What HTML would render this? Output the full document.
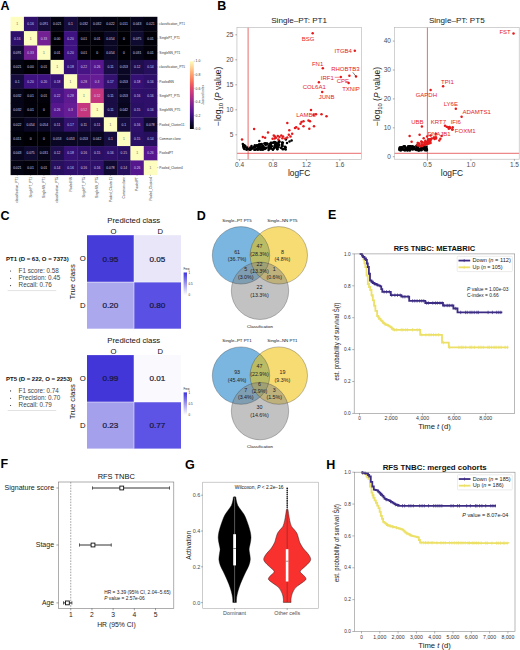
<!DOCTYPE html><html><head><meta charset="utf-8"><style>html,body{margin:0;padding:0;background:#fff;}svg{display:block;}text{font-family:"Liberation Sans", sans-serif;}</style></head><body>
<svg width="520" height="650" viewBox="0 0 520 650">
<rect x="0" y="0" width="520" height="650" fill="#fff"/>
<text x="0.60" y="9.90" font-size="12.5" text-anchor="start" font-weight="bold" fill="#000"  style="">A</text>
<text x="217.30" y="9.70" font-size="12.5" text-anchor="start" font-weight="bold" fill="#000"  style="">B</text>
<text x="0.40" y="219.80" font-size="12.5" text-anchor="start" font-weight="bold" fill="#000"  style="">C</text>
<text x="196.70" y="219.70" font-size="12.5" text-anchor="start" font-weight="bold" fill="#000"  style="">D</text>
<text x="327.90" y="219.30" font-size="12.5" text-anchor="start" font-weight="bold" fill="#000"  style="">E</text>
<text x="0.50" y="468.30" font-size="12.5" text-anchor="start" font-weight="bold" fill="#000"  style="">F</text>
<text x="185.00" y="468.50" font-size="12.5" text-anchor="start" font-weight="bold" fill="#000"  style="">G</text>
<text x="326.20" y="468.60" font-size="12.5" text-anchor="start" font-weight="bold" fill="#000"  style="">H</text>
<rect x="10.60" y="16.80" width="13.62" height="14.66" fill="#fcfdbf" stroke="none" stroke-width="1" />
<rect x="23.92" y="16.80" width="13.62" height="14.66" fill="#2e106a" stroke="none" stroke-width="1" />
<rect x="37.24" y="16.80" width="13.62" height="14.66" fill="#140b39" stroke="none" stroke-width="1" />
<rect x="50.55" y="16.80" width="13.62" height="14.66" fill="#040311" stroke="none" stroke-width="1" />
<rect x="63.87" y="16.80" width="13.62" height="14.66" fill="#160c3e" stroke="none" stroke-width="1" />
<rect x="77.19" y="16.80" width="13.62" height="14.66" fill="#060417" stroke="none" stroke-width="1" />
<rect x="90.51" y="16.80" width="13.62" height="14.66" fill="#060417" stroke="none" stroke-width="1" />
<rect x="103.83" y="16.80" width="13.62" height="14.66" fill="#040311" stroke="none" stroke-width="1" />
<rect x="117.15" y="16.80" width="13.62" height="14.66" fill="#02020b" stroke="none" stroke-width="1" />
<rect x="130.46" y="16.80" width="13.62" height="14.66" fill="#08061e" stroke="none" stroke-width="1" />
<rect x="143.78" y="16.80" width="13.62" height="14.66" fill="#040311" stroke="none" stroke-width="1" />
<rect x="10.60" y="31.16" width="13.62" height="14.66" fill="#2e106a" stroke="none" stroke-width="1" />
<rect x="23.92" y="31.16" width="13.62" height="14.66" fill="#fcfdbf" stroke="none" stroke-width="1" />
<rect x="37.24" y="31.16" width="13.62" height="14.66" fill="#722093" stroke="none" stroke-width="1" />
<rect x="50.55" y="31.16" width="13.62" height="14.66" fill="#000004" stroke="none" stroke-width="1" />
<rect x="63.87" y="31.16" width="13.62" height="14.66" fill="#3e1280" stroke="none" stroke-width="1" />
<rect x="77.19" y="31.16" width="13.62" height="14.66" fill="#02010a" stroke="none" stroke-width="1" />
<rect x="90.51" y="31.16" width="13.62" height="14.66" fill="#02010a" stroke="none" stroke-width="1" />
<rect x="103.83" y="31.16" width="13.62" height="14.66" fill="#0a0724" stroke="none" stroke-width="1" />
<rect x="117.15" y="31.16" width="13.62" height="14.66" fill="#000004" stroke="none" stroke-width="1" />
<rect x="130.46" y="31.16" width="13.62" height="14.66" fill="#0f0a30" stroke="none" stroke-width="1" />
<rect x="143.78" y="31.16" width="13.62" height="14.66" fill="#02010a" stroke="none" stroke-width="1" />
<rect x="10.60" y="45.53" width="13.62" height="14.66" fill="#140b39" stroke="none" stroke-width="1" />
<rect x="23.92" y="45.53" width="13.62" height="14.66" fill="#722093" stroke="none" stroke-width="1" />
<rect x="37.24" y="45.53" width="13.62" height="14.66" fill="#fcfdbf" stroke="none" stroke-width="1" />
<rect x="50.55" y="45.53" width="13.62" height="14.66" fill="#02010a" stroke="none" stroke-width="1" />
<rect x="63.87" y="45.53" width="13.62" height="14.66" fill="#3e1280" stroke="none" stroke-width="1" />
<rect x="77.19" y="45.53" width="13.62" height="14.66" fill="#02010a" stroke="none" stroke-width="1" />
<rect x="90.51" y="45.53" width="13.62" height="14.66" fill="#000004" stroke="none" stroke-width="1" />
<rect x="103.83" y="45.53" width="13.62" height="14.66" fill="#0a0724" stroke="none" stroke-width="1" />
<rect x="117.15" y="45.53" width="13.62" height="14.66" fill="#000004" stroke="none" stroke-width="1" />
<rect x="130.46" y="45.53" width="13.62" height="14.66" fill="#060417" stroke="none" stroke-width="1" />
<rect x="143.78" y="45.53" width="13.62" height="14.66" fill="#02010a" stroke="none" stroke-width="1" />
<rect x="10.60" y="59.89" width="13.62" height="14.66" fill="#040311" stroke="none" stroke-width="1" />
<rect x="23.92" y="59.89" width="13.62" height="14.66" fill="#000004" stroke="none" stroke-width="1" />
<rect x="37.24" y="59.89" width="13.62" height="14.66" fill="#02010a" stroke="none" stroke-width="1" />
<rect x="50.55" y="59.89" width="13.62" height="14.66" fill="#fcfdbf" stroke="none" stroke-width="1" />
<rect x="63.87" y="59.89" width="13.62" height="14.66" fill="#361175" stroke="none" stroke-width="1" />
<rect x="77.19" y="59.89" width="13.62" height="14.66" fill="#461485" stroke="none" stroke-width="1" />
<rect x="90.51" y="59.89" width="13.62" height="14.66" fill="#56178e" stroke="none" stroke-width="1" />
<rect x="103.83" y="59.89" width="13.62" height="14.66" fill="#1a0d46" stroke="none" stroke-width="1" />
<rect x="117.15" y="59.89" width="13.62" height="14.66" fill="#0a0724" stroke="none" stroke-width="1" />
<rect x="130.46" y="59.89" width="13.62" height="14.66" fill="#1e0e4d" stroke="none" stroke-width="1" />
<rect x="143.78" y="59.89" width="13.62" height="14.66" fill="#260f5c" stroke="none" stroke-width="1" />
<rect x="10.60" y="74.25" width="13.62" height="14.66" fill="#160c3e" stroke="none" stroke-width="1" />
<rect x="23.92" y="74.25" width="13.62" height="14.66" fill="#3e1280" stroke="none" stroke-width="1" />
<rect x="37.24" y="74.25" width="13.62" height="14.66" fill="#3e1280" stroke="none" stroke-width="1" />
<rect x="50.55" y="74.25" width="13.62" height="14.66" fill="#361175" stroke="none" stroke-width="1" />
<rect x="63.87" y="74.25" width="13.62" height="14.66" fill="#fcfdbf" stroke="none" stroke-width="1" />
<rect x="77.19" y="74.25" width="13.62" height="14.66" fill="#5e1a91" stroke="none" stroke-width="1" />
<rect x="90.51" y="74.25" width="13.62" height="14.66" fill="#661c94" stroke="none" stroke-width="1" />
<rect x="103.83" y="74.25" width="13.62" height="14.66" fill="#32116f" stroke="none" stroke-width="1" />
<rect x="117.15" y="74.25" width="13.62" height="14.66" fill="#0a0724" stroke="none" stroke-width="1" />
<rect x="130.46" y="74.25" width="13.62" height="14.66" fill="#361175" stroke="none" stroke-width="1" />
<rect x="143.78" y="74.25" width="13.62" height="14.66" fill="#2e106a" stroke="none" stroke-width="1" />
<rect x="10.60" y="88.62" width="13.62" height="14.66" fill="#060417" stroke="none" stroke-width="1" />
<rect x="23.92" y="88.62" width="13.62" height="14.66" fill="#02010a" stroke="none" stroke-width="1" />
<rect x="37.24" y="88.62" width="13.62" height="14.66" fill="#02010a" stroke="none" stroke-width="1" />
<rect x="50.55" y="88.62" width="13.62" height="14.66" fill="#461485" stroke="none" stroke-width="1" />
<rect x="63.87" y="88.62" width="13.62" height="14.66" fill="#5e1a91" stroke="none" stroke-width="1" />
<rect x="77.19" y="88.62" width="13.62" height="14.66" fill="#fcfdbf" stroke="none" stroke-width="1" />
<rect x="90.51" y="88.62" width="13.62" height="14.66" fill="#c4377f" stroke="none" stroke-width="1" />
<rect x="103.83" y="88.62" width="13.62" height="14.66" fill="#1a0d46" stroke="none" stroke-width="1" />
<rect x="117.15" y="88.62" width="13.62" height="14.66" fill="#0a0724" stroke="none" stroke-width="1" />
<rect x="130.46" y="88.62" width="13.62" height="14.66" fill="#2e106a" stroke="none" stroke-width="1" />
<rect x="143.78" y="88.62" width="13.62" height="14.66" fill="#2e106a" stroke="none" stroke-width="1" />
<rect x="10.60" y="102.98" width="13.62" height="14.66" fill="#060417" stroke="none" stroke-width="1" />
<rect x="23.92" y="102.98" width="13.62" height="14.66" fill="#02010a" stroke="none" stroke-width="1" />
<rect x="37.24" y="102.98" width="13.62" height="14.66" fill="#000004" stroke="none" stroke-width="1" />
<rect x="50.55" y="102.98" width="13.62" height="14.66" fill="#56178e" stroke="none" stroke-width="1" />
<rect x="63.87" y="102.98" width="13.62" height="14.66" fill="#661c94" stroke="none" stroke-width="1" />
<rect x="77.19" y="102.98" width="13.62" height="14.66" fill="#c4377f" stroke="none" stroke-width="1" />
<rect x="90.51" y="102.98" width="13.62" height="14.66" fill="#fcfdbf" stroke="none" stroke-width="1" />
<rect x="103.83" y="102.98" width="13.62" height="14.66" fill="#1a0d46" stroke="none" stroke-width="1" />
<rect x="117.15" y="102.98" width="13.62" height="14.66" fill="#08061d" stroke="none" stroke-width="1" />
<rect x="130.46" y="102.98" width="13.62" height="14.66" fill="#2a1064" stroke="none" stroke-width="1" />
<rect x="143.78" y="102.98" width="13.62" height="14.66" fill="#2e106a" stroke="none" stroke-width="1" />
<rect x="10.60" y="117.35" width="13.62" height="14.66" fill="#040311" stroke="none" stroke-width="1" />
<rect x="23.92" y="117.35" width="13.62" height="14.66" fill="#0a0724" stroke="none" stroke-width="1" />
<rect x="37.24" y="117.35" width="13.62" height="14.66" fill="#0a0724" stroke="none" stroke-width="1" />
<rect x="50.55" y="117.35" width="13.62" height="14.66" fill="#1a0d46" stroke="none" stroke-width="1" />
<rect x="63.87" y="117.35" width="13.62" height="14.66" fill="#32116f" stroke="none" stroke-width="1" />
<rect x="77.19" y="117.35" width="13.62" height="14.66" fill="#1a0d46" stroke="none" stroke-width="1" />
<rect x="90.51" y="117.35" width="13.62" height="14.66" fill="#1a0d46" stroke="none" stroke-width="1" />
<rect x="103.83" y="117.35" width="13.62" height="14.66" fill="#fcfdbf" stroke="none" stroke-width="1" />
<rect x="117.15" y="117.35" width="13.62" height="14.66" fill="#160c3e" stroke="none" stroke-width="1" />
<rect x="130.46" y="117.35" width="13.62" height="14.66" fill="#2e106a" stroke="none" stroke-width="1" />
<rect x="143.78" y="117.35" width="13.62" height="14.66" fill="#100a32" stroke="none" stroke-width="1" />
<rect x="10.60" y="131.71" width="13.62" height="14.66" fill="#02020b" stroke="none" stroke-width="1" />
<rect x="23.92" y="131.71" width="13.62" height="14.66" fill="#000004" stroke="none" stroke-width="1" />
<rect x="37.24" y="131.71" width="13.62" height="14.66" fill="#000004" stroke="none" stroke-width="1" />
<rect x="50.55" y="131.71" width="13.62" height="14.66" fill="#0a0724" stroke="none" stroke-width="1" />
<rect x="63.87" y="131.71" width="13.62" height="14.66" fill="#0a0724" stroke="none" stroke-width="1" />
<rect x="77.19" y="131.71" width="13.62" height="14.66" fill="#0a0724" stroke="none" stroke-width="1" />
<rect x="90.51" y="131.71" width="13.62" height="14.66" fill="#08061d" stroke="none" stroke-width="1" />
<rect x="103.83" y="131.71" width="13.62" height="14.66" fill="#160c3e" stroke="none" stroke-width="1" />
<rect x="117.15" y="131.71" width="13.62" height="14.66" fill="#fcfdbf" stroke="none" stroke-width="1" />
<rect x="130.46" y="131.71" width="13.62" height="14.66" fill="#2a1064" stroke="none" stroke-width="1" />
<rect x="143.78" y="131.71" width="13.62" height="14.66" fill="#260f5c" stroke="none" stroke-width="1" />
<rect x="10.60" y="146.07" width="13.62" height="14.66" fill="#08061e" stroke="none" stroke-width="1" />
<rect x="23.92" y="146.07" width="13.62" height="14.66" fill="#0f0a30" stroke="none" stroke-width="1" />
<rect x="37.24" y="146.07" width="13.62" height="14.66" fill="#060417" stroke="none" stroke-width="1" />
<rect x="50.55" y="146.07" width="13.62" height="14.66" fill="#1e0e4d" stroke="none" stroke-width="1" />
<rect x="63.87" y="146.07" width="13.62" height="14.66" fill="#361175" stroke="none" stroke-width="1" />
<rect x="77.19" y="146.07" width="13.62" height="14.66" fill="#2e106a" stroke="none" stroke-width="1" />
<rect x="90.51" y="146.07" width="13.62" height="14.66" fill="#2a1064" stroke="none" stroke-width="1" />
<rect x="103.83" y="146.07" width="13.62" height="14.66" fill="#2e106a" stroke="none" stroke-width="1" />
<rect x="117.15" y="146.07" width="13.62" height="14.66" fill="#2a1064" stroke="none" stroke-width="1" />
<rect x="130.46" y="146.07" width="13.62" height="14.66" fill="#fcfdbf" stroke="none" stroke-width="1" />
<rect x="143.78" y="146.07" width="13.62" height="14.66" fill="#56178e" stroke="none" stroke-width="1" />
<rect x="10.60" y="160.44" width="13.62" height="14.66" fill="#040311" stroke="none" stroke-width="1" />
<rect x="23.92" y="160.44" width="13.62" height="14.66" fill="#02010a" stroke="none" stroke-width="1" />
<rect x="37.24" y="160.44" width="13.62" height="14.66" fill="#02010a" stroke="none" stroke-width="1" />
<rect x="50.55" y="160.44" width="13.62" height="14.66" fill="#260f5c" stroke="none" stroke-width="1" />
<rect x="63.87" y="160.44" width="13.62" height="14.66" fill="#2e106a" stroke="none" stroke-width="1" />
<rect x="77.19" y="160.44" width="13.62" height="14.66" fill="#2e106a" stroke="none" stroke-width="1" />
<rect x="90.51" y="160.44" width="13.62" height="14.66" fill="#2e106a" stroke="none" stroke-width="1" />
<rect x="103.83" y="160.44" width="13.62" height="14.66" fill="#100a32" stroke="none" stroke-width="1" />
<rect x="117.15" y="160.44" width="13.62" height="14.66" fill="#260f5c" stroke="none" stroke-width="1" />
<rect x="130.46" y="160.44" width="13.62" height="14.66" fill="#56178e" stroke="none" stroke-width="1" />
<rect x="143.78" y="160.44" width="13.62" height="14.66" fill="#fcfdbf" stroke="none" stroke-width="1" />
<text x="17.26" y="25.13" font-size="3.3" text-anchor="middle" font-weight="normal" fill="#666"  style="">1</text>
<text x="30.58" y="25.13" font-size="3.3" text-anchor="middle" font-weight="normal" fill="#d8d0ec"  style="">0.16</text>
<text x="43.90" y="25.13" font-size="3.3" text-anchor="middle" font-weight="normal" fill="#d8d0ec"  style="">0.091</text>
<text x="57.21" y="25.13" font-size="3.3" text-anchor="middle" font-weight="normal" fill="#d8d0ec"  style="">0.021</text>
<text x="70.53" y="25.13" font-size="3.3" text-anchor="middle" font-weight="normal" fill="#d8d0ec"  style="">0.1</text>
<text x="83.85" y="25.13" font-size="3.3" text-anchor="middle" font-weight="normal" fill="#d8d0ec"  style="">0.032</text>
<text x="97.17" y="25.13" font-size="3.3" text-anchor="middle" font-weight="normal" fill="#d8d0ec"  style="">0.032</text>
<text x="110.49" y="25.13" font-size="3.3" text-anchor="middle" font-weight="normal" fill="#d8d0ec"  style="">0.022</text>
<text x="123.80" y="25.13" font-size="3.3" text-anchor="middle" font-weight="normal" fill="#d8d0ec"  style="">0.011</text>
<text x="137.12" y="25.13" font-size="3.3" text-anchor="middle" font-weight="normal" fill="#d8d0ec"  style="">0.043</text>
<text x="150.44" y="25.13" font-size="3.3" text-anchor="middle" font-weight="normal" fill="#d8d0ec"  style="">0.021</text>
<text x="17.26" y="39.50" font-size="3.3" text-anchor="middle" font-weight="normal" fill="#d8d0ec"  style="">0.16</text>
<text x="30.58" y="39.50" font-size="3.3" text-anchor="middle" font-weight="normal" fill="#666"  style="">1</text>
<text x="43.90" y="39.50" font-size="3.3" text-anchor="middle" font-weight="normal" fill="#d8d0ec"  style="">0.33</text>
<text x="57.21" y="39.50" font-size="3.3" text-anchor="middle" font-weight="normal" fill="#d8d0ec"  style="">0.00</text>
<text x="70.53" y="39.50" font-size="3.3" text-anchor="middle" font-weight="normal" fill="#d8d0ec"  style="">0.20</text>
<text x="83.85" y="39.50" font-size="3.3" text-anchor="middle" font-weight="normal" fill="#d8d0ec"  style="">0.01</text>
<text x="97.17" y="39.50" font-size="3.3" text-anchor="middle" font-weight="normal" fill="#d8d0ec"  style="">0.01</text>
<text x="110.49" y="39.50" font-size="3.3" text-anchor="middle" font-weight="normal" fill="#d8d0ec"  style="">0.054</text>
<text x="123.80" y="39.50" font-size="3.3" text-anchor="middle" font-weight="normal" fill="#d8d0ec"  style="">0</text>
<text x="137.12" y="39.50" font-size="3.3" text-anchor="middle" font-weight="normal" fill="#d8d0ec"  style="">0.075</text>
<text x="150.44" y="39.50" font-size="3.3" text-anchor="middle" font-weight="normal" fill="#d8d0ec"  style="">0.01</text>
<text x="17.26" y="53.86" font-size="3.3" text-anchor="middle" font-weight="normal" fill="#d8d0ec"  style="">0.091</text>
<text x="30.58" y="53.86" font-size="3.3" text-anchor="middle" font-weight="normal" fill="#d8d0ec"  style="">0.33</text>
<text x="43.90" y="53.86" font-size="3.3" text-anchor="middle" font-weight="normal" fill="#666"  style="">1</text>
<text x="57.21" y="53.86" font-size="3.3" text-anchor="middle" font-weight="normal" fill="#d8d0ec"  style="">0.01</text>
<text x="70.53" y="53.86" font-size="3.3" text-anchor="middle" font-weight="normal" fill="#d8d0ec"  style="">0.20</text>
<text x="83.85" y="53.86" font-size="3.3" text-anchor="middle" font-weight="normal" fill="#d8d0ec"  style="">0.01</text>
<text x="97.17" y="53.86" font-size="3.3" text-anchor="middle" font-weight="normal" fill="#d8d0ec"  style="">0</text>
<text x="110.49" y="53.86" font-size="3.3" text-anchor="middle" font-weight="normal" fill="#d8d0ec"  style="">0.054</text>
<text x="123.80" y="53.86" font-size="3.3" text-anchor="middle" font-weight="normal" fill="#d8d0ec"  style="">0</text>
<text x="137.12" y="53.86" font-size="3.3" text-anchor="middle" font-weight="normal" fill="#d8d0ec"  style="">0.031</text>
<text x="150.44" y="53.86" font-size="3.3" text-anchor="middle" font-weight="normal" fill="#d8d0ec"  style="">0.01</text>
<text x="17.26" y="68.22" font-size="3.3" text-anchor="middle" font-weight="normal" fill="#d8d0ec"  style="">0.021</text>
<text x="30.58" y="68.22" font-size="3.3" text-anchor="middle" font-weight="normal" fill="#d8d0ec"  style="">0.00</text>
<text x="43.90" y="68.22" font-size="3.3" text-anchor="middle" font-weight="normal" fill="#d8d0ec"  style="">0.01</text>
<text x="57.21" y="68.22" font-size="3.3" text-anchor="middle" font-weight="normal" fill="#666"  style="">1</text>
<text x="70.53" y="68.22" font-size="3.3" text-anchor="middle" font-weight="normal" fill="#d8d0ec"  style="">0.18</text>
<text x="83.85" y="68.22" font-size="3.3" text-anchor="middle" font-weight="normal" fill="#d8d0ec"  style="">0.22</text>
<text x="97.17" y="68.22" font-size="3.3" text-anchor="middle" font-weight="normal" fill="#d8d0ec"  style="">0.26</text>
<text x="110.49" y="68.22" font-size="3.3" text-anchor="middle" font-weight="normal" fill="#d8d0ec"  style="">0.11</text>
<text x="123.80" y="68.22" font-size="3.3" text-anchor="middle" font-weight="normal" fill="#d8d0ec"  style="">0.053</text>
<text x="137.12" y="68.22" font-size="3.3" text-anchor="middle" font-weight="normal" fill="#d8d0ec"  style="">0.12</text>
<text x="150.44" y="68.22" font-size="3.3" text-anchor="middle" font-weight="normal" fill="#d8d0ec"  style="">0.14</text>
<text x="17.26" y="82.59" font-size="3.3" text-anchor="middle" font-weight="normal" fill="#d8d0ec"  style="">0.1</text>
<text x="30.58" y="82.59" font-size="3.3" text-anchor="middle" font-weight="normal" fill="#d8d0ec"  style="">0.20</text>
<text x="43.90" y="82.59" font-size="3.3" text-anchor="middle" font-weight="normal" fill="#d8d0ec"  style="">0.20</text>
<text x="57.21" y="82.59" font-size="3.3" text-anchor="middle" font-weight="normal" fill="#d8d0ec"  style="">0.18</text>
<text x="70.53" y="82.59" font-size="3.3" text-anchor="middle" font-weight="normal" fill="#666"  style="">1</text>
<text x="83.85" y="82.59" font-size="3.3" text-anchor="middle" font-weight="normal" fill="#d8d0ec"  style="">0.28</text>
<text x="97.17" y="82.59" font-size="3.3" text-anchor="middle" font-weight="normal" fill="#d8d0ec"  style="">0.3</text>
<text x="110.49" y="82.59" font-size="3.3" text-anchor="middle" font-weight="normal" fill="#d8d0ec"  style="">0.17</text>
<text x="123.80" y="82.59" font-size="3.3" text-anchor="middle" font-weight="normal" fill="#d8d0ec"  style="">0.053</text>
<text x="137.12" y="82.59" font-size="3.3" text-anchor="middle" font-weight="normal" fill="#d8d0ec"  style="">0.18</text>
<text x="150.44" y="82.59" font-size="3.3" text-anchor="middle" font-weight="normal" fill="#d8d0ec"  style="">0.16</text>
<text x="17.26" y="96.95" font-size="3.3" text-anchor="middle" font-weight="normal" fill="#d8d0ec"  style="">0.032</text>
<text x="30.58" y="96.95" font-size="3.3" text-anchor="middle" font-weight="normal" fill="#d8d0ec"  style="">0.01</text>
<text x="43.90" y="96.95" font-size="3.3" text-anchor="middle" font-weight="normal" fill="#d8d0ec"  style="">0.01</text>
<text x="57.21" y="96.95" font-size="3.3" text-anchor="middle" font-weight="normal" fill="#d8d0ec"  style="">0.22</text>
<text x="70.53" y="96.95" font-size="3.3" text-anchor="middle" font-weight="normal" fill="#d8d0ec"  style="">0.28</text>
<text x="83.85" y="96.95" font-size="3.3" text-anchor="middle" font-weight="normal" fill="#666"  style="">1</text>
<text x="97.17" y="96.95" font-size="3.3" text-anchor="middle" font-weight="normal" fill="#d8d0ec"  style="">0.52</text>
<text x="110.49" y="96.95" font-size="3.3" text-anchor="middle" font-weight="normal" fill="#d8d0ec"  style="">0.11</text>
<text x="123.80" y="96.95" font-size="3.3" text-anchor="middle" font-weight="normal" fill="#d8d0ec"  style="">0.053</text>
<text x="137.12" y="96.95" font-size="3.3" text-anchor="middle" font-weight="normal" fill="#d8d0ec"  style="">0.16</text>
<text x="150.44" y="96.95" font-size="3.3" text-anchor="middle" font-weight="normal" fill="#d8d0ec"  style="">0.16</text>
<text x="17.26" y="111.31" font-size="3.3" text-anchor="middle" font-weight="normal" fill="#d8d0ec"  style="">0.032</text>
<text x="30.58" y="111.31" font-size="3.3" text-anchor="middle" font-weight="normal" fill="#d8d0ec"  style="">0.01</text>
<text x="43.90" y="111.31" font-size="3.3" text-anchor="middle" font-weight="normal" fill="#d8d0ec"  style="">0</text>
<text x="57.21" y="111.31" font-size="3.3" text-anchor="middle" font-weight="normal" fill="#d8d0ec"  style="">0.26</text>
<text x="70.53" y="111.31" font-size="3.3" text-anchor="middle" font-weight="normal" fill="#d8d0ec"  style="">0.3</text>
<text x="83.85" y="111.31" font-size="3.3" text-anchor="middle" font-weight="normal" fill="#d8d0ec"  style="">0.52</text>
<text x="97.17" y="111.31" font-size="3.3" text-anchor="middle" font-weight="normal" fill="#666"  style="">1</text>
<text x="110.49" y="111.31" font-size="3.3" text-anchor="middle" font-weight="normal" fill="#d8d0ec"  style="">0.11</text>
<text x="123.80" y="111.31" font-size="3.3" text-anchor="middle" font-weight="normal" fill="#d8d0ec"  style="">0.042</text>
<text x="137.12" y="111.31" font-size="3.3" text-anchor="middle" font-weight="normal" fill="#d8d0ec"  style="">0.15</text>
<text x="150.44" y="111.31" font-size="3.3" text-anchor="middle" font-weight="normal" fill="#d8d0ec"  style="">0.16</text>
<text x="17.26" y="125.68" font-size="3.3" text-anchor="middle" font-weight="normal" fill="#d8d0ec"  style="">0.022</text>
<text x="30.58" y="125.68" font-size="3.3" text-anchor="middle" font-weight="normal" fill="#d8d0ec"  style="">0.054</text>
<text x="43.90" y="125.68" font-size="3.3" text-anchor="middle" font-weight="normal" fill="#d8d0ec"  style="">0.054</text>
<text x="57.21" y="125.68" font-size="3.3" text-anchor="middle" font-weight="normal" fill="#d8d0ec"  style="">0.11</text>
<text x="70.53" y="125.68" font-size="3.3" text-anchor="middle" font-weight="normal" fill="#d8d0ec"  style="">0.17</text>
<text x="83.85" y="125.68" font-size="3.3" text-anchor="middle" font-weight="normal" fill="#d8d0ec"  style="">0.11</text>
<text x="97.17" y="125.68" font-size="3.3" text-anchor="middle" font-weight="normal" fill="#d8d0ec"  style="">0.11</text>
<text x="110.49" y="125.68" font-size="3.3" text-anchor="middle" font-weight="normal" fill="#666"  style="">1</text>
<text x="123.80" y="125.68" font-size="3.3" text-anchor="middle" font-weight="normal" fill="#d8d0ec"  style="">0.1</text>
<text x="137.12" y="125.68" font-size="3.3" text-anchor="middle" font-weight="normal" fill="#d8d0ec"  style="">0.16</text>
<text x="150.44" y="125.68" font-size="3.3" text-anchor="middle" font-weight="normal" fill="#d8d0ec"  style="">0.078</text>
<text x="17.26" y="140.04" font-size="3.3" text-anchor="middle" font-weight="normal" fill="#d8d0ec"  style="">0.011</text>
<text x="30.58" y="140.04" font-size="3.3" text-anchor="middle" font-weight="normal" fill="#d8d0ec"  style="">0</text>
<text x="43.90" y="140.04" font-size="3.3" text-anchor="middle" font-weight="normal" fill="#d8d0ec"  style="">0</text>
<text x="57.21" y="140.04" font-size="3.3" text-anchor="middle" font-weight="normal" fill="#d8d0ec"  style="">0.053</text>
<text x="70.53" y="140.04" font-size="3.3" text-anchor="middle" font-weight="normal" fill="#d8d0ec"  style="">0.053</text>
<text x="83.85" y="140.04" font-size="3.3" text-anchor="middle" font-weight="normal" fill="#d8d0ec"  style="">0.053</text>
<text x="97.17" y="140.04" font-size="3.3" text-anchor="middle" font-weight="normal" fill="#d8d0ec"  style="">0.042</text>
<text x="110.49" y="140.04" font-size="3.3" text-anchor="middle" font-weight="normal" fill="#d8d0ec"  style="">0.1</text>
<text x="123.80" y="140.04" font-size="3.3" text-anchor="middle" font-weight="normal" fill="#666"  style="">1</text>
<text x="137.12" y="140.04" font-size="3.3" text-anchor="middle" font-weight="normal" fill="#d8d0ec"  style="">0.15</text>
<text x="150.44" y="140.04" font-size="3.3" text-anchor="middle" font-weight="normal" fill="#d8d0ec"  style="">0.14</text>
<text x="17.26" y="154.40" font-size="3.3" text-anchor="middle" font-weight="normal" fill="#d8d0ec"  style="">0.043</text>
<text x="30.58" y="154.40" font-size="3.3" text-anchor="middle" font-weight="normal" fill="#d8d0ec"  style="">0.075</text>
<text x="43.90" y="154.40" font-size="3.3" text-anchor="middle" font-weight="normal" fill="#d8d0ec"  style="">0.031</text>
<text x="57.21" y="154.40" font-size="3.3" text-anchor="middle" font-weight="normal" fill="#d8d0ec"  style="">0.12</text>
<text x="70.53" y="154.40" font-size="3.3" text-anchor="middle" font-weight="normal" fill="#d8d0ec"  style="">0.18</text>
<text x="83.85" y="154.40" font-size="3.3" text-anchor="middle" font-weight="normal" fill="#d8d0ec"  style="">0.16</text>
<text x="97.17" y="154.40" font-size="3.3" text-anchor="middle" font-weight="normal" fill="#d8d0ec"  style="">0.15</text>
<text x="110.49" y="154.40" font-size="3.3" text-anchor="middle" font-weight="normal" fill="#d8d0ec"  style="">0.16</text>
<text x="123.80" y="154.40" font-size="3.3" text-anchor="middle" font-weight="normal" fill="#d8d0ec"  style="">0.15</text>
<text x="137.12" y="154.40" font-size="3.3" text-anchor="middle" font-weight="normal" fill="#666"  style="">1</text>
<text x="150.44" y="154.40" font-size="3.3" text-anchor="middle" font-weight="normal" fill="#d8d0ec"  style="">0.26</text>
<text x="17.26" y="168.77" font-size="3.3" text-anchor="middle" font-weight="normal" fill="#d8d0ec"  style="">0.021</text>
<text x="30.58" y="168.77" font-size="3.3" text-anchor="middle" font-weight="normal" fill="#d8d0ec"  style="">0.01</text>
<text x="43.90" y="168.77" font-size="3.3" text-anchor="middle" font-weight="normal" fill="#d8d0ec"  style="">0.01</text>
<text x="57.21" y="168.77" font-size="3.3" text-anchor="middle" font-weight="normal" fill="#d8d0ec"  style="">0.14</text>
<text x="70.53" y="168.77" font-size="3.3" text-anchor="middle" font-weight="normal" fill="#d8d0ec"  style="">0.16</text>
<text x="83.85" y="168.77" font-size="3.3" text-anchor="middle" font-weight="normal" fill="#d8d0ec"  style="">0.16</text>
<text x="97.17" y="168.77" font-size="3.3" text-anchor="middle" font-weight="normal" fill="#d8d0ec"  style="">0.16</text>
<text x="110.49" y="168.77" font-size="3.3" text-anchor="middle" font-weight="normal" fill="#d8d0ec"  style="">0.078</text>
<text x="123.80" y="168.77" font-size="3.3" text-anchor="middle" font-weight="normal" fill="#d8d0ec"  style="">0.14</text>
<text x="137.12" y="168.77" font-size="3.3" text-anchor="middle" font-weight="normal" fill="#d8d0ec"  style="">0.26</text>
<text x="150.44" y="168.77" font-size="3.3" text-anchor="middle" font-weight="normal" fill="#666"  style="">1</text>
<line x1="157.10" y1="23.98" x2="158.30" y2="23.98" stroke="#444" stroke-width="0.3" />
<text x="159.30" y="25.08" font-size="3.2" text-anchor="start" font-weight="normal" fill="#333"  style="">classification_PT1</text>
<line x1="157.10" y1="38.35" x2="158.30" y2="38.35" stroke="#444" stroke-width="0.3" />
<text x="159.30" y="39.45" font-size="3.2" text-anchor="start" font-weight="normal" fill="#333"  style="">SinglePT_PT1</text>
<line x1="157.10" y1="52.71" x2="158.30" y2="52.71" stroke="#444" stroke-width="0.3" />
<text x="159.30" y="53.81" font-size="3.2" text-anchor="start" font-weight="normal" fill="#333"  style="">SingleNN_PT1</text>
<line x1="157.10" y1="67.07" x2="158.30" y2="67.07" stroke="#444" stroke-width="0.3" />
<text x="159.30" y="68.17" font-size="3.2" text-anchor="start" font-weight="normal" fill="#333"  style="">classification_PT5</text>
<line x1="157.10" y1="81.44" x2="158.30" y2="81.44" stroke="#444" stroke-width="0.3" />
<text x="159.30" y="82.54" font-size="3.2" text-anchor="start" font-weight="normal" fill="#333"  style="">PooledNN</text>
<line x1="157.10" y1="95.80" x2="158.30" y2="95.80" stroke="#444" stroke-width="0.3" />
<text x="159.30" y="96.90" font-size="3.2" text-anchor="start" font-weight="normal" fill="#333"  style="">SinglePT_PT5</text>
<line x1="157.10" y1="110.16" x2="158.30" y2="110.16" stroke="#444" stroke-width="0.3" />
<text x="159.30" y="111.26" font-size="3.2" text-anchor="start" font-weight="normal" fill="#333"  style="">SingleNN_PT5</text>
<line x1="157.10" y1="124.53" x2="158.30" y2="124.53" stroke="#444" stroke-width="0.3" />
<text x="159.30" y="125.63" font-size="3.2" text-anchor="start" font-weight="normal" fill="#333"  style="">Pooled_Cluster11</text>
<line x1="157.10" y1="138.89" x2="158.30" y2="138.89" stroke="#444" stroke-width="0.3" />
<text x="159.30" y="139.99" font-size="3.2" text-anchor="start" font-weight="normal" fill="#333"  style="">Common clone</text>
<line x1="157.10" y1="153.25" x2="158.30" y2="153.25" stroke="#444" stroke-width="0.3" />
<text x="159.30" y="154.35" font-size="3.2" text-anchor="start" font-weight="normal" fill="#333"  style="">PooledPT</text>
<line x1="157.10" y1="167.62" x2="158.30" y2="167.62" stroke="#444" stroke-width="0.3" />
<text x="159.30" y="168.72" font-size="3.2" text-anchor="start" font-weight="normal" fill="#333"  style="">Pooled_Cluster4</text>
<line x1="17.26" y1="174.80" x2="17.26" y2="176.00" stroke="#444" stroke-width="0.3" />
<text transform="translate(18.36,177.00) rotate(-90)" font-size="3.2" text-anchor="end" fill="#333">classification_PT1</text>
<line x1="30.58" y1="174.80" x2="30.58" y2="176.00" stroke="#444" stroke-width="0.3" />
<text transform="translate(31.68,177.00) rotate(-90)" font-size="3.2" text-anchor="end" fill="#333">SinglePT_PT1</text>
<line x1="43.90" y1="174.80" x2="43.90" y2="176.00" stroke="#444" stroke-width="0.3" />
<text transform="translate(45.00,177.00) rotate(-90)" font-size="3.2" text-anchor="end" fill="#333">SingleNN_PT1</text>
<line x1="57.21" y1="174.80" x2="57.21" y2="176.00" stroke="#444" stroke-width="0.3" />
<text transform="translate(58.31,177.00) rotate(-90)" font-size="3.2" text-anchor="end" fill="#333">classification_PT5</text>
<line x1="70.53" y1="174.80" x2="70.53" y2="176.00" stroke="#444" stroke-width="0.3" />
<text transform="translate(71.63,177.00) rotate(-90)" font-size="3.2" text-anchor="end" fill="#333">PooledNN</text>
<line x1="83.85" y1="174.80" x2="83.85" y2="176.00" stroke="#444" stroke-width="0.3" />
<text transform="translate(84.95,177.00) rotate(-90)" font-size="3.2" text-anchor="end" fill="#333">SinglePT_PT5</text>
<line x1="97.17" y1="174.80" x2="97.17" y2="176.00" stroke="#444" stroke-width="0.3" />
<text transform="translate(98.27,177.00) rotate(-90)" font-size="3.2" text-anchor="end" fill="#333">SingleNN_PT5</text>
<line x1="110.49" y1="174.80" x2="110.49" y2="176.00" stroke="#444" stroke-width="0.3" />
<text transform="translate(111.59,177.00) rotate(-90)" font-size="3.2" text-anchor="end" fill="#333">Pooled_Cluster11</text>
<line x1="123.80" y1="174.80" x2="123.80" y2="176.00" stroke="#444" stroke-width="0.3" />
<text transform="translate(124.90,177.00) rotate(-90)" font-size="3.2" text-anchor="end" fill="#333">Common clone</text>
<line x1="137.12" y1="174.80" x2="137.12" y2="176.00" stroke="#444" stroke-width="0.3" />
<text transform="translate(138.22,177.00) rotate(-90)" font-size="3.2" text-anchor="end" fill="#333">PooledPT</text>
<line x1="150.44" y1="174.80" x2="150.44" y2="176.00" stroke="#444" stroke-width="0.3" />
<text transform="translate(151.54,177.00) rotate(-90)" font-size="3.2" text-anchor="end" fill="#333">Pooled_Cluster4</text>
<defs><linearGradient id="mg" x1="0" y1="1" x2="0" y2="0">
<stop offset="0.00" stop-color="#000004"/>
<stop offset="0.05" stop-color="#090722"/>
<stop offset="0.10" stop-color="#160c3e"/>
<stop offset="0.15" stop-color="#2a1064"/>
<stop offset="0.20" stop-color="#3e1280"/>
<stop offset="0.25" stop-color="#52168c"/>
<stop offset="0.30" stop-color="#661c94"/>
<stop offset="0.35" stop-color="#7a2292"/>
<stop offset="0.40" stop-color="#91288e"/>
<stop offset="0.45" stop-color="#a62e88"/>
<stop offset="0.50" stop-color="#bc3482"/>
<stop offset="0.55" stop-color="#d03c7a"/>
<stop offset="0.60" stop-color="#e0486c"/>
<stop offset="0.65" stop-color="#ed5960"/>
<stop offset="0.70" stop-color="#f7705c"/>
<stop offset="0.75" stop-color="#fc8961"/>
<stop offset="0.80" stop-color="#fe9f6d"/>
<stop offset="0.85" stop-color="#feb77d"/>
<stop offset="0.90" stop-color="#fecf92"/>
<stop offset="0.95" stop-color="#fde6a7"/>
<stop offset="1.00" stop-color="#fcfdbf"/>
</linearGradient></defs>
<rect x="189.90" y="61.20" width="3.90" height="67.80" fill="url(#mg)" stroke="none" stroke-width="1" />
<line x1="193.80" y1="129.00" x2="194.80" y2="129.00" stroke="#444" stroke-width="0.3" />
<text x="195.60" y="130.20" font-size="3.4" text-anchor="start" font-weight="normal" fill="#333"  style="">0.0</text>
<line x1="193.80" y1="115.44" x2="194.80" y2="115.44" stroke="#444" stroke-width="0.3" />
<text x="195.60" y="116.64" font-size="3.4" text-anchor="start" font-weight="normal" fill="#333"  style="">0.2</text>
<line x1="193.80" y1="101.88" x2="194.80" y2="101.88" stroke="#444" stroke-width="0.3" />
<text x="195.60" y="103.08" font-size="3.4" text-anchor="start" font-weight="normal" fill="#333"  style="">0.4</text>
<line x1="193.80" y1="88.32" x2="194.80" y2="88.32" stroke="#444" stroke-width="0.3" />
<text x="195.60" y="89.52" font-size="3.4" text-anchor="start" font-weight="normal" fill="#333"  style="">0.6</text>
<line x1="193.80" y1="74.76" x2="194.80" y2="74.76" stroke="#444" stroke-width="0.3" />
<text x="195.60" y="75.96" font-size="3.4" text-anchor="start" font-weight="normal" fill="#333"  style="">0.8</text>
<line x1="193.80" y1="61.20" x2="194.80" y2="61.20" stroke="#444" stroke-width="0.3" />
<text x="195.60" y="62.40" font-size="3.4" text-anchor="start" font-weight="normal" fill="#333"  style="">1.0</text>
<text transform="translate(203.80,94.80) rotate(-90)" font-size="3.2" text-anchor="middle" fill="#333">Jaccard index</text>
<text x="299.12" y="22.50" font-size="8.1" text-anchor="middle" font-weight="normal" fill="#1a1a1a"  style="">Single–PT: PT1</text>
<line x1="248.10" y1="27.50" x2="248.10" y2="159.30" stroke="#e23a3a" stroke-width="0.75" />
<line x1="236.95" y1="153.30" x2="361.30" y2="153.30" stroke="#e23a3a" stroke-width="0.75" />
<circle cx="270.94" cy="143.78" r="1.25" fill="#000" stroke="none" stroke-width="0" />
<circle cx="277.88" cy="145.71" r="1.25" fill="#000" stroke="none" stroke-width="0" />
<circle cx="265.22" cy="143.18" r="1.25" fill="#000" stroke="none" stroke-width="0" />
<circle cx="259.33" cy="144.71" r="1.25" fill="#000" stroke="none" stroke-width="0" />
<circle cx="277.93" cy="143.31" r="1.25" fill="#000" stroke="none" stroke-width="0" />
<circle cx="275.50" cy="146.70" r="1.25" fill="#000" stroke="none" stroke-width="0" />
<circle cx="244.50" cy="147.35" r="1.25" fill="#000" stroke="none" stroke-width="0" />
<circle cx="259.21" cy="148.89" r="1.25" fill="#000" stroke="none" stroke-width="0" />
<circle cx="262.94" cy="145.77" r="1.25" fill="#000" stroke="none" stroke-width="0" />
<circle cx="264.33" cy="143.58" r="1.25" fill="#000" stroke="none" stroke-width="0" />
<circle cx="281.10" cy="148.10" r="1.25" fill="#000" stroke="none" stroke-width="0" />
<circle cx="276.56" cy="147.62" r="1.25" fill="#000" stroke="none" stroke-width="0" />
<circle cx="248.39" cy="149.17" r="1.25" fill="#000" stroke="none" stroke-width="0" />
<circle cx="282.05" cy="144.78" r="1.25" fill="#000" stroke="none" stroke-width="0" />
<circle cx="262.86" cy="149.87" r="1.25" fill="#000" stroke="none" stroke-width="0" />
<circle cx="260.01" cy="144.73" r="1.25" fill="#000" stroke="none" stroke-width="0" />
<circle cx="274.60" cy="145.76" r="1.25" fill="#000" stroke="none" stroke-width="0" />
<circle cx="264.63" cy="148.23" r="1.25" fill="#000" stroke="none" stroke-width="0" />
<circle cx="267.49" cy="144.00" r="1.25" fill="#000" stroke="none" stroke-width="0" />
<circle cx="250.48" cy="149.61" r="1.25" fill="#000" stroke="none" stroke-width="0" />
<circle cx="258.25" cy="146.17" r="1.25" fill="#000" stroke="none" stroke-width="0" />
<circle cx="247.54" cy="149.08" r="1.25" fill="#000" stroke="none" stroke-width="0" />
<circle cx="277.19" cy="147.21" r="1.25" fill="#000" stroke="none" stroke-width="0" />
<circle cx="272.74" cy="149.57" r="1.25" fill="#000" stroke="none" stroke-width="0" />
<circle cx="260.91" cy="149.67" r="1.25" fill="#000" stroke="none" stroke-width="0" />
<circle cx="268.98" cy="146.08" r="1.25" fill="#000" stroke="none" stroke-width="0" />
<circle cx="259.52" cy="149.20" r="1.25" fill="#000" stroke="none" stroke-width="0" />
<circle cx="250.14" cy="149.14" r="1.25" fill="#000" stroke="none" stroke-width="0" />
<circle cx="277.05" cy="148.52" r="1.25" fill="#000" stroke="none" stroke-width="0" />
<circle cx="245.30" cy="146.41" r="1.25" fill="#000" stroke="none" stroke-width="0" />
<circle cx="261.46" cy="144.32" r="1.25" fill="#000" stroke="none" stroke-width="0" />
<circle cx="257.88" cy="149.81" r="1.25" fill="#000" stroke="none" stroke-width="0" />
<circle cx="275.82" cy="143.65" r="1.25" fill="#000" stroke="none" stroke-width="0" />
<circle cx="285.19" cy="147.83" r="1.25" fill="#000" stroke="none" stroke-width="0" />
<circle cx="244.25" cy="149.07" r="1.25" fill="#000" stroke="none" stroke-width="0" />
<circle cx="277.99" cy="146.47" r="1.25" fill="#000" stroke="none" stroke-width="0" />
<circle cx="261.75" cy="148.99" r="1.25" fill="#000" stroke="none" stroke-width="0" />
<circle cx="256.55" cy="146.22" r="1.25" fill="#000" stroke="none" stroke-width="0" />
<circle cx="276.80" cy="147.24" r="1.25" fill="#000" stroke="none" stroke-width="0" />
<circle cx="284.97" cy="146.78" r="1.25" fill="#000" stroke="none" stroke-width="0" />
<circle cx="271.33" cy="146.64" r="1.25" fill="#000" stroke="none" stroke-width="0" />
<circle cx="254.32" cy="149.71" r="1.25" fill="#000" stroke="none" stroke-width="0" />
<circle cx="282.85" cy="142.70" r="1.25" fill="#000" stroke="none" stroke-width="0" />
<circle cx="247.13" cy="147.40" r="1.25" fill="#000" stroke="none" stroke-width="0" />
<circle cx="271.83" cy="146.25" r="1.25" fill="#000" stroke="none" stroke-width="0" />
<circle cx="257.27" cy="145.84" r="1.25" fill="#000" stroke="none" stroke-width="0" />
<circle cx="250.31" cy="147.44" r="1.25" fill="#000" stroke="none" stroke-width="0" />
<circle cx="274.24" cy="142.10" r="1.25" fill="#000" stroke="none" stroke-width="0" />
<circle cx="274.28" cy="148.05" r="1.25" fill="#000" stroke="none" stroke-width="0" />
<circle cx="277.79" cy="145.30" r="1.25" fill="#000" stroke="none" stroke-width="0" />
<circle cx="254.13" cy="146.71" r="1.25" fill="#000" stroke="none" stroke-width="0" />
<circle cx="244.84" cy="146.44" r="1.25" fill="#000" stroke="none" stroke-width="0" />
<circle cx="282.63" cy="145.93" r="1.25" fill="#000" stroke="none" stroke-width="0" />
<circle cx="267.17" cy="143.47" r="1.25" fill="#000" stroke="none" stroke-width="0" />
<circle cx="269.45" cy="147.89" r="1.25" fill="#000" stroke="none" stroke-width="0" />
<circle cx="285.55" cy="147.62" r="1.25" fill="#000" stroke="none" stroke-width="0" />
<circle cx="266.13" cy="143.41" r="1.25" fill="#000" stroke="none" stroke-width="0" />
<circle cx="278.85" cy="144.43" r="1.25" fill="#000" stroke="none" stroke-width="0" />
<circle cx="257.00" cy="145.30" r="1.25" fill="#000" stroke="none" stroke-width="0" />
<circle cx="246.35" cy="149.03" r="1.25" fill="#000" stroke="none" stroke-width="0" />
<circle cx="276.44" cy="146.71" r="1.25" fill="#000" stroke="none" stroke-width="0" />
<circle cx="262.48" cy="146.12" r="1.25" fill="#000" stroke="none" stroke-width="0" />
<circle cx="260.67" cy="144.35" r="1.25" fill="#000" stroke="none" stroke-width="0" />
<circle cx="262.09" cy="148.09" r="1.25" fill="#000" stroke="none" stroke-width="0" />
<circle cx="278.96" cy="145.29" r="1.25" fill="#000" stroke="none" stroke-width="0" />
<circle cx="253.40" cy="147.58" r="1.25" fill="#000" stroke="none" stroke-width="0" />
<circle cx="270.80" cy="142.78" r="1.25" fill="#000" stroke="none" stroke-width="0" />
<circle cx="264.11" cy="148.06" r="1.25" fill="#000" stroke="none" stroke-width="0" />
<circle cx="270.58" cy="147.32" r="1.25" fill="#000" stroke="none" stroke-width="0" />
<circle cx="273.05" cy="149.23" r="1.25" fill="#000" stroke="none" stroke-width="0" />
<circle cx="259.98" cy="148.90" r="1.25" fill="#000" stroke="none" stroke-width="0" />
<circle cx="243.28" cy="146.22" r="1.25" fill="#000" stroke="none" stroke-width="0" />
<circle cx="260.21" cy="147.33" r="1.25" fill="#000" stroke="none" stroke-width="0" />
<circle cx="246.50" cy="149.64" r="1.25" fill="#000" stroke="none" stroke-width="0" />
<circle cx="275.66" cy="142.47" r="1.25" fill="#000" stroke="none" stroke-width="0" />
<circle cx="252.06" cy="148.37" r="1.25" fill="#000" stroke="none" stroke-width="0" />
<circle cx="272.99" cy="149.51" r="1.25" fill="#000" stroke="none" stroke-width="0" />
<circle cx="257.17" cy="149.10" r="1.25" fill="#000" stroke="none" stroke-width="0" />
<circle cx="255.21" cy="149.61" r="1.25" fill="#000" stroke="none" stroke-width="0" />
<circle cx="263.55" cy="147.45" r="1.25" fill="#000" stroke="none" stroke-width="0" />
<circle cx="255.35" cy="146.91" r="1.25" fill="#000" stroke="none" stroke-width="0" />
<circle cx="254.99" cy="149.71" r="1.25" fill="#000" stroke="none" stroke-width="0" />
<circle cx="243.84" cy="144.88" r="1.25" fill="#000" stroke="none" stroke-width="0" />
<circle cx="269.75" cy="144.09" r="1.25" fill="#000" stroke="none" stroke-width="0" />
<circle cx="243.33" cy="145.08" r="1.25" fill="#000" stroke="none" stroke-width="0" />
<circle cx="256.59" cy="149.36" r="1.25" fill="#000" stroke="none" stroke-width="0" />
<circle cx="259.28" cy="148.74" r="1.25" fill="#000" stroke="none" stroke-width="0" />
<circle cx="279.18" cy="141.87" r="1.25" fill="#000" stroke="none" stroke-width="0" />
<circle cx="251.25" cy="148.05" r="1.25" fill="#000" stroke="none" stroke-width="0" />
<circle cx="281.88" cy="146.52" r="1.25" fill="#000" stroke="none" stroke-width="0" />
<circle cx="275.86" cy="143.11" r="1.25" fill="#000" stroke="none" stroke-width="0" />
<circle cx="269.69" cy="145.86" r="1.25" fill="#000" stroke="none" stroke-width="0" />
<circle cx="278.20" cy="143.64" r="1.25" fill="#000" stroke="none" stroke-width="0" />
<circle cx="258.54" cy="147.87" r="1.25" fill="#000" stroke="none" stroke-width="0" />
<circle cx="282.17" cy="142.40" r="1.25" fill="#000" stroke="none" stroke-width="0" />
<circle cx="265.52" cy="144.39" r="1.25" fill="#000" stroke="none" stroke-width="0" />
<circle cx="254.87" cy="145.30" r="1.25" fill="#000" stroke="none" stroke-width="0" />
<circle cx="264.78" cy="147.59" r="1.25" fill="#000" stroke="none" stroke-width="0" />
<circle cx="249.96" cy="149.63" r="1.25" fill="#000" stroke="none" stroke-width="0" />
<circle cx="266.70" cy="147.72" r="1.25" fill="#000" stroke="none" stroke-width="0" />
<circle cx="275.02" cy="142.28" r="1.25" fill="#000" stroke="none" stroke-width="0" />
<circle cx="279.40" cy="141.83" r="1.25" fill="#000" stroke="none" stroke-width="0" />
<circle cx="258.50" cy="147.88" r="1.25" fill="#000" stroke="none" stroke-width="0" />
<circle cx="264.73" cy="148.91" r="1.25" fill="#000" stroke="none" stroke-width="0" />
<circle cx="278.50" cy="147.16" r="1.25" fill="#000" stroke="none" stroke-width="0" />
<circle cx="282.72" cy="149.17" r="1.25" fill="#000" stroke="none" stroke-width="0" />
<circle cx="285.69" cy="149.46" r="1.25" fill="#000" stroke="none" stroke-width="0" />
<circle cx="243.49" cy="147.85" r="1.25" fill="#000" stroke="none" stroke-width="0" />
<circle cx="269.72" cy="147.20" r="1.25" fill="#000" stroke="none" stroke-width="0" />
<circle cx="266.59" cy="144.33" r="1.25" fill="#000" stroke="none" stroke-width="0" />
<circle cx="277.13" cy="148.90" r="1.25" fill="#000" stroke="none" stroke-width="0" />
<circle cx="258.94" cy="146.62" r="1.25" fill="#000" stroke="none" stroke-width="0" />
<circle cx="250.84" cy="149.15" r="1.25" fill="#000" stroke="none" stroke-width="0" />
<circle cx="258.94" cy="144.54" r="1.25" fill="#000" stroke="none" stroke-width="0" />
<circle cx="261.61" cy="144.04" r="1.25" fill="#000" stroke="none" stroke-width="0" />
<circle cx="272.28" cy="142.80" r="1.25" fill="#000" stroke="none" stroke-width="0" />
<circle cx="283.82" cy="149.08" r="1.25" fill="#000" stroke="none" stroke-width="0" />
<circle cx="265.61" cy="144.72" r="1.25" fill="#000" stroke="none" stroke-width="0" />
<circle cx="261.67" cy="148.52" r="1.25" fill="#000" stroke="none" stroke-width="0" />
<circle cx="276.06" cy="143.64" r="1.25" fill="#000" stroke="none" stroke-width="0" />
<circle cx="261.93" cy="146.79" r="1.25" fill="#000" stroke="none" stroke-width="0" />
<circle cx="254.68" cy="147.33" r="1.25" fill="#000" stroke="none" stroke-width="0" />
<circle cx="268.80" cy="147.93" r="1.25" fill="#000" stroke="none" stroke-width="0" />
<circle cx="275.16" cy="144.74" r="1.25" fill="#000" stroke="none" stroke-width="0" />
<circle cx="260.32" cy="147.97" r="1.25" fill="#000" stroke="none" stroke-width="0" />
<circle cx="268.59" cy="149.88" r="1.25" fill="#000" stroke="none" stroke-width="0" />
<circle cx="251.66" cy="148.78" r="1.25" fill="#000" stroke="none" stroke-width="0" />
<circle cx="278.74" cy="141.87" r="1.25" fill="#000" stroke="none" stroke-width="0" />
<circle cx="259.30" cy="147.11" r="1.25" fill="#000" stroke="none" stroke-width="0" />
<circle cx="263.31" cy="147.54" r="1.25" fill="#000" stroke="none" stroke-width="0" />
<circle cx="269.33" cy="148.88" r="1.25" fill="#000" stroke="none" stroke-width="0" />
<circle cx="276.06" cy="143.62" r="1.25" fill="#000" stroke="none" stroke-width="0" />
<circle cx="277.40" cy="149.29" r="1.25" fill="#000" stroke="none" stroke-width="0" />
<circle cx="282.19" cy="144.33" r="1.25" fill="#000" stroke="none" stroke-width="0" />
<circle cx="270.88" cy="148.58" r="1.25" fill="#000" stroke="none" stroke-width="0" />
<circle cx="254.65" cy="146.56" r="1.25" fill="#000" stroke="none" stroke-width="0" />
<circle cx="252.60" cy="147.71" r="1.25" fill="#000" stroke="none" stroke-width="0" />
<circle cx="274.37" cy="147.33" r="1.25" fill="#000" stroke="none" stroke-width="0" />
<circle cx="257.74" cy="146.56" r="1.25" fill="#000" stroke="none" stroke-width="0" />
<circle cx="251.50" cy="145.97" r="1.25" fill="#000" stroke="none" stroke-width="0" />
<circle cx="273.64" cy="142.79" r="1.25" fill="#000" stroke="none" stroke-width="0" />
<circle cx="269.16" cy="146.14" r="1.25" fill="#000" stroke="none" stroke-width="0" />
<circle cx="285.34" cy="147.13" r="1.25" fill="#000" stroke="none" stroke-width="0" />
<circle cx="270.97" cy="144.80" r="1.25" fill="#000" stroke="none" stroke-width="0" />
<circle cx="276.22" cy="145.34" r="1.25" fill="#000" stroke="none" stroke-width="0" />
<circle cx="265.61" cy="148.46" r="1.25" fill="#000" stroke="none" stroke-width="0" />
<circle cx="263.02" cy="147.30" r="1.25" fill="#000" stroke="none" stroke-width="0" />
<circle cx="268.65" cy="146.11" r="1.25" fill="#000" stroke="none" stroke-width="0" />
<circle cx="257.39" cy="145.80" r="1.25" fill="#000" stroke="none" stroke-width="0" />
<circle cx="245.12" cy="145.70" r="1.25" fill="#000" stroke="none" stroke-width="0" />
<circle cx="259.30" cy="141.10" r="1.25" fill="#000" stroke="none" stroke-width="0" />
<circle cx="285.90" cy="139.40" r="1.25" fill="#000" stroke="none" stroke-width="0" />
<circle cx="291.60" cy="140.60" r="1.25" fill="#000" stroke="none" stroke-width="0" />
<circle cx="279.00" cy="141.00" r="1.25" fill="#000" stroke="none" stroke-width="0" />
<circle cx="242.80" cy="144.00" r="1.25" fill="#000" stroke="none" stroke-width="0" />
<circle cx="243.50" cy="146.00" r="1.25" fill="#000" stroke="none" stroke-width="0" />
<circle cx="287.00" cy="143.00" r="1.25" fill="#000" stroke="none" stroke-width="0" />
<circle cx="289.50" cy="141.50" r="1.25" fill="#000" stroke="none" stroke-width="0" />
<circle cx="242.00" cy="139.40" r="1.25" fill="#e41a1c" stroke="none" stroke-width="0" />
<circle cx="254.10" cy="129.00" r="1.25" fill="#e41a1c" stroke="none" stroke-width="0" />
<circle cx="268.00" cy="132.50" r="1.25" fill="#e41a1c" stroke="none" stroke-width="0" />
<circle cx="262.80" cy="137.10" r="1.25" fill="#e41a1c" stroke="none" stroke-width="0" />
<circle cx="265.10" cy="137.70" r="1.25" fill="#e41a1c" stroke="none" stroke-width="0" />
<circle cx="273.80" cy="135.40" r="1.25" fill="#e41a1c" stroke="none" stroke-width="0" />
<circle cx="274.90" cy="136.50" r="1.25" fill="#e41a1c" stroke="none" stroke-width="0" />
<circle cx="276.00" cy="137.70" r="1.25" fill="#e41a1c" stroke="none" stroke-width="0" />
<circle cx="277.80" cy="136.00" r="1.25" fill="#e41a1c" stroke="none" stroke-width="0" />
<circle cx="279.50" cy="137.10" r="1.25" fill="#e41a1c" stroke="none" stroke-width="0" />
<circle cx="281.30" cy="135.40" r="1.25" fill="#e41a1c" stroke="none" stroke-width="0" />
<circle cx="283.00" cy="136.50" r="1.25" fill="#e41a1c" stroke="none" stroke-width="0" />
<circle cx="282.40" cy="138.30" r="1.25" fill="#e41a1c" stroke="none" stroke-width="0" />
<circle cx="288.80" cy="134.80" r="1.25" fill="#e41a1c" stroke="none" stroke-width="0" />
<circle cx="289.30" cy="130.20" r="1.25" fill="#e41a1c" stroke="none" stroke-width="0" />
<circle cx="292.20" cy="133.70" r="1.25" fill="#e41a1c" stroke="none" stroke-width="0" />
<circle cx="295.00" cy="127.90" r="1.25" fill="#e41a1c" stroke="none" stroke-width="0" />
<circle cx="296.20" cy="127.30" r="1.25" fill="#e41a1c" stroke="none" stroke-width="0" />
<circle cx="272.60" cy="138.80" r="1.25" fill="#e41a1c" stroke="none" stroke-width="0" />
<circle cx="274.70" cy="138.60" r="1.25" fill="#e41a1c" stroke="none" stroke-width="0" />
<circle cx="278.40" cy="139.40" r="1.25" fill="#e41a1c" stroke="none" stroke-width="0" />
<circle cx="285.30" cy="138.40" r="1.25" fill="#e41a1c" stroke="none" stroke-width="0" />
<circle cx="287.30" cy="137.50" r="1.25" fill="#e41a1c" stroke="none" stroke-width="0" />
<circle cx="290.50" cy="136.50" r="1.25" fill="#e41a1c" stroke="none" stroke-width="0" />
<circle cx="287.30" cy="123.00" r="1.25" fill="#e41a1c" stroke="none" stroke-width="0" />
<circle cx="298.50" cy="128.80" r="1.25" fill="#e41a1c" stroke="none" stroke-width="0" />
<circle cx="300.50" cy="123.80" r="1.25" fill="#e41a1c" stroke="none" stroke-width="0" />
<circle cx="301.50" cy="122.00" r="1.25" fill="#e41a1c" stroke="none" stroke-width="0" />
<circle cx="303.50" cy="121.30" r="1.25" fill="#e41a1c" stroke="none" stroke-width="0" />
<circle cx="303.50" cy="126.30" r="1.25" fill="#e41a1c" stroke="none" stroke-width="0" />
<circle cx="308.50" cy="120.50" r="1.25" fill="#e41a1c" stroke="none" stroke-width="0" />
<circle cx="310.00" cy="121.30" r="1.25" fill="#e41a1c" stroke="none" stroke-width="0" />
<circle cx="309.30" cy="128.80" r="1.25" fill="#e41a1c" stroke="none" stroke-width="0" />
<circle cx="311.00" cy="110.00" r="1.25" fill="#e41a1c" stroke="none" stroke-width="0" />
<circle cx="313.50" cy="115.00" r="1.25" fill="#e41a1c" stroke="none" stroke-width="0" />
<circle cx="314.00" cy="126.30" r="1.25" fill="#e41a1c" stroke="none" stroke-width="0" />
<circle cx="316.00" cy="114.30" r="1.25" fill="#e41a1c" stroke="none" stroke-width="0" />
<circle cx="321.50" cy="114.30" r="1.25" fill="#e41a1c" stroke="none" stroke-width="0" />
<circle cx="326.50" cy="116.30" r="1.25" fill="#e41a1c" stroke="none" stroke-width="0" />
<circle cx="322.20" cy="92.00" r="1.25" fill="#e41a1c" stroke="none" stroke-width="0" />
<circle cx="318.90" cy="82.20" r="1.25" fill="#e41a1c" stroke="none" stroke-width="0" />
<circle cx="322.80" cy="68.30" r="1.25" fill="#e41a1c" stroke="none" stroke-width="0" />
<circle cx="312.70" cy="33.20" r="1.25" fill="#e41a1c" stroke="none" stroke-width="0" />
<circle cx="354.80" cy="50.80" r="1.25" fill="#e41a1c" stroke="none" stroke-width="0" />
<circle cx="356.00" cy="76.50" r="1.25" fill="#e41a1c" stroke="none" stroke-width="0" />
<circle cx="340.80" cy="77.00" r="1.25" fill="#e41a1c" stroke="none" stroke-width="0" />
<circle cx="349.40" cy="75.70" r="1.25" fill="#e41a1c" stroke="none" stroke-width="0" />
<circle cx="348.60" cy="83.00" r="1.25" fill="#e41a1c" stroke="none" stroke-width="0" />
<text x="308.10" y="40.50" font-size="6.0" text-anchor="middle" font-weight="normal" fill="#e41a1c"  style="">BSG</text>
<text x="351.90" y="53.20" font-size="6.0" text-anchor="end" font-weight="normal" fill="#e41a1c"  style="">ITGB4</text>
<text x="317.60" y="65.80" font-size="6.0" text-anchor="middle" font-weight="normal" fill="#e41a1c"  style="">FN1</text>
<text x="345.30" y="71.20" font-size="6.0" text-anchor="middle" font-weight="normal" fill="#e41a1c"  style="">RHOBTB3</text>
<text x="327.30" y="79.70" font-size="6.0" text-anchor="middle" font-weight="normal" fill="#e41a1c"  style="">IRF1</text>
<text x="342.90" y="82.70" font-size="6.0" text-anchor="middle" font-weight="normal" fill="#e41a1c"  style="">CPE</text>
<text x="351.00" y="90.50" font-size="6.0" text-anchor="middle" font-weight="normal" fill="#e41a1c"  style="">TXNIP</text>
<text x="314.30" y="89.20" font-size="6.0" text-anchor="middle" font-weight="normal" fill="#e41a1c"  style="">COL6A1</text>
<text x="326.60" y="98.70" font-size="6.0" text-anchor="middle" font-weight="normal" fill="#e41a1c"  style="">JUNB</text>
<text x="306.10" y="117.00" font-size="6.0" text-anchor="middle" font-weight="normal" fill="#e41a1c"  style="">LAMB3</text>
<line x1="334.70" y1="77.30" x2="339.60" y2="77.30" stroke="#e41a1c" stroke-width="0.5" />
<line x1="352.80" y1="72.30" x2="356.00" y2="76.50" stroke="#000" stroke-width="0.5" />
<rect x="236.95" y="27.50" width="124.35" height="131.80" fill="none" stroke="#b3b3b3" stroke-width="0.6" />
<line x1="235.35" y1="134.80" x2="236.95" y2="134.80" stroke="#555" stroke-width="0.5" />
<text x="233.45" y="137.10" font-size="6.5" text-anchor="end" font-weight="normal" fill="#4d4d4d"  style="">5</text>
<line x1="235.35" y1="109.80" x2="236.95" y2="109.80" stroke="#555" stroke-width="0.5" />
<text x="233.45" y="112.10" font-size="6.5" text-anchor="end" font-weight="normal" fill="#4d4d4d"  style="">10</text>
<line x1="235.35" y1="84.80" x2="236.95" y2="84.80" stroke="#555" stroke-width="0.5" />
<text x="233.45" y="87.10" font-size="6.5" text-anchor="end" font-weight="normal" fill="#4d4d4d"  style="">15</text>
<line x1="235.35" y1="59.80" x2="236.95" y2="59.80" stroke="#555" stroke-width="0.5" />
<text x="233.45" y="62.10" font-size="6.5" text-anchor="end" font-weight="normal" fill="#4d4d4d"  style="">20</text>
<line x1="235.35" y1="34.80" x2="236.95" y2="34.80" stroke="#555" stroke-width="0.5" />
<text x="233.45" y="37.10" font-size="6.5" text-anchor="end" font-weight="normal" fill="#4d4d4d"  style="">25</text>
<line x1="239.55" y1="159.30" x2="239.55" y2="160.90" stroke="#555" stroke-width="0.5" />
<text x="239.55" y="167.10" font-size="6.5" text-anchor="middle" font-weight="normal" fill="#4d4d4d"  style="">0.4</text>
<line x1="272.99" y1="159.30" x2="272.99" y2="160.90" stroke="#555" stroke-width="0.5" />
<text x="272.99" y="167.10" font-size="6.5" text-anchor="middle" font-weight="normal" fill="#4d4d4d"  style="">0.8</text>
<line x1="306.43" y1="159.30" x2="306.43" y2="160.90" stroke="#555" stroke-width="0.5" />
<text x="306.43" y="167.10" font-size="6.5" text-anchor="middle" font-weight="normal" fill="#4d4d4d"  style="">1.2</text>
<line x1="339.87" y1="159.30" x2="339.87" y2="160.90" stroke="#555" stroke-width="0.5" />
<text x="339.87" y="167.10" font-size="6.5" text-anchor="middle" font-weight="normal" fill="#4d4d4d"  style="">1.6</text>
<text x="299.12" y="176.20" font-size="8.4" text-anchor="middle" font-weight="normal" fill="#1a1a1a"  style="">logFC</text>
<text transform="translate(221.4,96.3) rotate(-90)" font-size="8.5" text-anchor="middle" fill="#1a1a1a">−log<tspan font-size="5.8" dy="2">10</tspan><tspan dy="-2"> (</tspan><tspan font-style="italic">P</tspan> value)</text>
<text x="456.80" y="22.50" font-size="8.1" text-anchor="middle" font-weight="normal" fill="#1a1a1a"  style="">Single–PT: PT5</text>
<line x1="427.40" y1="27.40" x2="427.40" y2="159.20" stroke="#e23a3a" stroke-width="0.75" />
<line x1="394.40" y1="153.30" x2="519.20" y2="153.30" stroke="#e23a3a" stroke-width="0.75" />
<circle cx="416.63" cy="149.13" r="1.25" fill="#000" stroke="none" stroke-width="0" />
<circle cx="421.37" cy="150.20" r="1.25" fill="#000" stroke="none" stroke-width="0" />
<circle cx="419.85" cy="150.09" r="1.25" fill="#000" stroke="none" stroke-width="0" />
<circle cx="400.30" cy="148.75" r="1.25" fill="#000" stroke="none" stroke-width="0" />
<circle cx="425.44" cy="149.00" r="1.25" fill="#000" stroke="none" stroke-width="0" />
<circle cx="424.27" cy="146.40" r="1.25" fill="#000" stroke="none" stroke-width="0" />
<circle cx="412.40" cy="146.60" r="1.25" fill="#000" stroke="none" stroke-width="0" />
<circle cx="414.45" cy="148.26" r="1.25" fill="#000" stroke="none" stroke-width="0" />
<circle cx="399.86" cy="148.05" r="1.25" fill="#000" stroke="none" stroke-width="0" />
<circle cx="407.19" cy="150.10" r="1.25" fill="#000" stroke="none" stroke-width="0" />
<circle cx="420.56" cy="146.12" r="1.25" fill="#000" stroke="none" stroke-width="0" />
<circle cx="421.42" cy="146.09" r="1.25" fill="#000" stroke="none" stroke-width="0" />
<circle cx="416.48" cy="145.88" r="1.25" fill="#000" stroke="none" stroke-width="0" />
<circle cx="399.55" cy="150.11" r="1.25" fill="#000" stroke="none" stroke-width="0" />
<circle cx="405.26" cy="146.98" r="1.25" fill="#000" stroke="none" stroke-width="0" />
<circle cx="426.52" cy="150.02" r="1.25" fill="#000" stroke="none" stroke-width="0" />
<circle cx="407.46" cy="150.32" r="1.25" fill="#000" stroke="none" stroke-width="0" />
<circle cx="414.33" cy="148.81" r="1.25" fill="#000" stroke="none" stroke-width="0" />
<circle cx="405.13" cy="150.24" r="1.25" fill="#000" stroke="none" stroke-width="0" />
<circle cx="418.49" cy="150.32" r="1.25" fill="#000" stroke="none" stroke-width="0" />
<circle cx="424.08" cy="147.23" r="1.25" fill="#000" stroke="none" stroke-width="0" />
<circle cx="409.43" cy="146.31" r="1.25" fill="#000" stroke="none" stroke-width="0" />
<circle cx="403.51" cy="146.51" r="1.25" fill="#000" stroke="none" stroke-width="0" />
<circle cx="407.79" cy="148.59" r="1.25" fill="#000" stroke="none" stroke-width="0" />
<circle cx="399.59" cy="149.52" r="1.25" fill="#000" stroke="none" stroke-width="0" />
<circle cx="408.79" cy="147.09" r="1.25" fill="#000" stroke="none" stroke-width="0" />
<circle cx="422.01" cy="147.89" r="1.25" fill="#000" stroke="none" stroke-width="0" />
<circle cx="408.18" cy="147.98" r="1.25" fill="#000" stroke="none" stroke-width="0" />
<circle cx="418.88" cy="145.56" r="1.25" fill="#000" stroke="none" stroke-width="0" />
<circle cx="426.32" cy="146.75" r="1.25" fill="#000" stroke="none" stroke-width="0" />
<circle cx="420.12" cy="149.69" r="1.25" fill="#000" stroke="none" stroke-width="0" />
<circle cx="400.00" cy="149.83" r="1.25" fill="#000" stroke="none" stroke-width="0" />
<circle cx="409.57" cy="148.37" r="1.25" fill="#000" stroke="none" stroke-width="0" />
<circle cx="399.75" cy="147.56" r="1.25" fill="#000" stroke="none" stroke-width="0" />
<circle cx="404.48" cy="150.30" r="1.25" fill="#000" stroke="none" stroke-width="0" />
<circle cx="404.90" cy="149.41" r="1.25" fill="#000" stroke="none" stroke-width="0" />
<circle cx="425.07" cy="150.24" r="1.25" fill="#000" stroke="none" stroke-width="0" />
<circle cx="408.97" cy="147.29" r="1.25" fill="#000" stroke="none" stroke-width="0" />
<circle cx="413.93" cy="149.33" r="1.25" fill="#000" stroke="none" stroke-width="0" />
<circle cx="402.47" cy="149.49" r="1.25" fill="#000" stroke="none" stroke-width="0" />
<circle cx="421.42" cy="149.78" r="1.25" fill="#000" stroke="none" stroke-width="0" />
<circle cx="400.51" cy="150.32" r="1.25" fill="#000" stroke="none" stroke-width="0" />
<circle cx="402.01" cy="147.96" r="1.25" fill="#000" stroke="none" stroke-width="0" />
<circle cx="416.30" cy="150.07" r="1.25" fill="#000" stroke="none" stroke-width="0" />
<circle cx="408.85" cy="150.12" r="1.25" fill="#000" stroke="none" stroke-width="0" />
<circle cx="414.49" cy="146.89" r="1.25" fill="#000" stroke="none" stroke-width="0" />
<circle cx="408.21" cy="146.49" r="1.25" fill="#000" stroke="none" stroke-width="0" />
<circle cx="401.65" cy="147.32" r="1.25" fill="#000" stroke="none" stroke-width="0" />
<circle cx="418.45" cy="150.48" r="1.25" fill="#000" stroke="none" stroke-width="0" />
<circle cx="403.94" cy="146.39" r="1.25" fill="#000" stroke="none" stroke-width="0" />
<circle cx="426.63" cy="148.78" r="1.25" fill="#000" stroke="none" stroke-width="0" />
<circle cx="410.66" cy="146.59" r="1.25" fill="#000" stroke="none" stroke-width="0" />
<circle cx="415.83" cy="149.58" r="1.25" fill="#000" stroke="none" stroke-width="0" />
<circle cx="412.03" cy="147.51" r="1.25" fill="#000" stroke="none" stroke-width="0" />
<circle cx="401.03" cy="150.20" r="1.25" fill="#000" stroke="none" stroke-width="0" />
<circle cx="400.40" cy="148.82" r="1.25" fill="#000" stroke="none" stroke-width="0" />
<circle cx="422.56" cy="146.22" r="1.25" fill="#000" stroke="none" stroke-width="0" />
<circle cx="419.62" cy="150.24" r="1.25" fill="#000" stroke="none" stroke-width="0" />
<circle cx="416.84" cy="149.38" r="1.25" fill="#000" stroke="none" stroke-width="0" />
<circle cx="402.43" cy="148.24" r="1.25" fill="#000" stroke="none" stroke-width="0" />
<circle cx="403.60" cy="149.84" r="1.25" fill="#000" stroke="none" stroke-width="0" />
<circle cx="407.61" cy="147.88" r="1.25" fill="#000" stroke="none" stroke-width="0" />
<circle cx="426.98" cy="149.98" r="1.25" fill="#000" stroke="none" stroke-width="0" />
<circle cx="426.34" cy="148.41" r="1.25" fill="#000" stroke="none" stroke-width="0" />
<circle cx="412.92" cy="149.09" r="1.25" fill="#000" stroke="none" stroke-width="0" />
<circle cx="412.67" cy="146.82" r="1.25" fill="#000" stroke="none" stroke-width="0" />
<circle cx="410.60" cy="146.13" r="1.25" fill="#000" stroke="none" stroke-width="0" />
<circle cx="409.87" cy="150.44" r="1.25" fill="#000" stroke="none" stroke-width="0" />
<circle cx="425.89" cy="148.99" r="1.25" fill="#000" stroke="none" stroke-width="0" />
<circle cx="413.23" cy="147.05" r="1.25" fill="#000" stroke="none" stroke-width="0" />
<circle cx="401.95" cy="147.71" r="1.25" fill="#000" stroke="none" stroke-width="0" />
<circle cx="421.01" cy="149.81" r="1.25" fill="#000" stroke="none" stroke-width="0" />
<circle cx="409.44" cy="149.42" r="1.25" fill="#000" stroke="none" stroke-width="0" />
<circle cx="420.81" cy="148.91" r="1.25" fill="#000" stroke="none" stroke-width="0" />
<circle cx="417.76" cy="149.23" r="1.25" fill="#000" stroke="none" stroke-width="0" />
<circle cx="409.49" cy="149.01" r="1.25" fill="#000" stroke="none" stroke-width="0" />
<circle cx="407.22" cy="148.06" r="1.25" fill="#000" stroke="none" stroke-width="0" />
<circle cx="420.67" cy="148.89" r="1.25" fill="#000" stroke="none" stroke-width="0" />
<circle cx="407.58" cy="150.24" r="1.25" fill="#000" stroke="none" stroke-width="0" />
<circle cx="417.37" cy="148.29" r="1.25" fill="#000" stroke="none" stroke-width="0" />
<circle cx="399.82" cy="149.09" r="1.25" fill="#000" stroke="none" stroke-width="0" />
<circle cx="406.39" cy="148.98" r="1.25" fill="#000" stroke="none" stroke-width="0" />
<circle cx="412.23" cy="149.55" r="1.25" fill="#000" stroke="none" stroke-width="0" />
<circle cx="417.30" cy="149.43" r="1.25" fill="#000" stroke="none" stroke-width="0" />
<circle cx="409.07" cy="148.73" r="1.25" fill="#000" stroke="none" stroke-width="0" />
<circle cx="419.79" cy="149.60" r="1.25" fill="#000" stroke="none" stroke-width="0" />
<circle cx="409.13" cy="149.72" r="1.25" fill="#000" stroke="none" stroke-width="0" />
<circle cx="423.42" cy="149.01" r="1.25" fill="#000" stroke="none" stroke-width="0" />
<circle cx="426.34" cy="150.33" r="1.25" fill="#000" stroke="none" stroke-width="0" />
<circle cx="413.75" cy="148.04" r="1.25" fill="#000" stroke="none" stroke-width="0" />
<circle cx="404.07" cy="149.79" r="1.25" fill="#000" stroke="none" stroke-width="0" />
<circle cx="425.28" cy="148.22" r="1.25" fill="#000" stroke="none" stroke-width="0" />
<circle cx="418.51" cy="149.03" r="1.25" fill="#000" stroke="none" stroke-width="0" />
<circle cx="419.58" cy="146.17" r="1.25" fill="#000" stroke="none" stroke-width="0" />
<circle cx="420.96" cy="148.32" r="1.25" fill="#000" stroke="none" stroke-width="0" />
<circle cx="417.80" cy="147.45" r="1.25" fill="#000" stroke="none" stroke-width="0" />
<circle cx="416.65" cy="149.31" r="1.25" fill="#000" stroke="none" stroke-width="0" />
<circle cx="417.01" cy="149.02" r="1.25" fill="#000" stroke="none" stroke-width="0" />
<circle cx="400.26" cy="147.76" r="1.25" fill="#000" stroke="none" stroke-width="0" />
<circle cx="411.63" cy="148.70" r="1.25" fill="#000" stroke="none" stroke-width="0" />
<circle cx="405.52" cy="149.08" r="1.25" fill="#000" stroke="none" stroke-width="0" />
<circle cx="416.85" cy="145.44" r="1.25" fill="#000" stroke="none" stroke-width="0" />
<circle cx="412.47" cy="146.49" r="1.25" fill="#000" stroke="none" stroke-width="0" />
<circle cx="400.99" cy="147.46" r="1.25" fill="#000" stroke="none" stroke-width="0" />
<circle cx="408.23" cy="146.51" r="1.25" fill="#000" stroke="none" stroke-width="0" />
<circle cx="404.82" cy="146.22" r="1.25" fill="#000" stroke="none" stroke-width="0" />
<circle cx="412.30" cy="147.29" r="1.25" fill="#000" stroke="none" stroke-width="0" />
<circle cx="416.32" cy="148.33" r="1.25" fill="#000" stroke="none" stroke-width="0" />
<circle cx="406.04" cy="150.06" r="1.25" fill="#000" stroke="none" stroke-width="0" />
<circle cx="399.52" cy="148.71" r="1.25" fill="#000" stroke="none" stroke-width="0" />
<circle cx="513.50" cy="33.40" r="1.25" fill="#e41a1c" stroke="none" stroke-width="0" />
<circle cx="443.10" cy="86.30" r="1.25" fill="#e41a1c" stroke="none" stroke-width="0" />
<circle cx="430.60" cy="89.90" r="1.25" fill="#e41a1c" stroke="none" stroke-width="0" />
<circle cx="455.80" cy="108.70" r="1.25" fill="#e41a1c" stroke="none" stroke-width="0" />
<circle cx="461.60" cy="116.80" r="1.25" fill="#e41a1c" stroke="none" stroke-width="0" />
<circle cx="421.90" cy="126.50" r="1.25" fill="#e41a1c" stroke="none" stroke-width="0" />
<circle cx="445.00" cy="125.80" r="1.25" fill="#e41a1c" stroke="none" stroke-width="0" />
<circle cx="448.10" cy="127.30" r="1.25" fill="#e41a1c" stroke="none" stroke-width="0" />
<circle cx="449.60" cy="127.00" r="1.25" fill="#e41a1c" stroke="none" stroke-width="0" />
<circle cx="452.70" cy="127.30" r="1.25" fill="#e41a1c" stroke="none" stroke-width="0" />
<circle cx="452.20" cy="129.60" r="1.25" fill="#e41a1c" stroke="none" stroke-width="0" />
<circle cx="448.80" cy="128.80" r="1.25" fill="#e41a1c" stroke="none" stroke-width="0" />
<circle cx="446.70" cy="126.70" r="1.25" fill="#e41a1c" stroke="none" stroke-width="0" />
<circle cx="450.20" cy="127.90" r="1.25" fill="#e41a1c" stroke="none" stroke-width="0" />
<circle cx="452.50" cy="129.60" r="1.25" fill="#e41a1c" stroke="none" stroke-width="0" />
<circle cx="409.60" cy="136.00" r="1.25" fill="#e41a1c" stroke="none" stroke-width="0" />
<circle cx="419.60" cy="134.80" r="1.25" fill="#e41a1c" stroke="none" stroke-width="0" />
<circle cx="411.60" cy="141.70" r="1.25" fill="#e41a1c" stroke="none" stroke-width="0" />
<circle cx="423.70" cy="138.30" r="1.25" fill="#e41a1c" stroke="none" stroke-width="0" />
<circle cx="427.10" cy="136.50" r="1.25" fill="#e41a1c" stroke="none" stroke-width="0" />
<circle cx="430.60" cy="135.40" r="1.25" fill="#e41a1c" stroke="none" stroke-width="0" />
<circle cx="417.90" cy="142.90" r="1.25" fill="#e41a1c" stroke="none" stroke-width="0" />
<circle cx="439.30" cy="140.60" r="1.25" fill="#e41a1c" stroke="none" stroke-width="0" />
<circle cx="440.40" cy="138.80" r="1.25" fill="#e41a1c" stroke="none" stroke-width="0" />
<circle cx="441.60" cy="136.00" r="1.25" fill="#e41a1c" stroke="none" stroke-width="0" />
<circle cx="435.80" cy="133.70" r="1.25" fill="#e41a1c" stroke="none" stroke-width="0" />
<circle cx="434.50" cy="139.00" r="1.25" fill="#e41a1c" stroke="none" stroke-width="0" />
<circle cx="436.00" cy="138.50" r="1.25" fill="#e41a1c" stroke="none" stroke-width="0" />
<circle cx="426.07" cy="141.74" r="1.25" fill="#e41a1c" stroke="none" stroke-width="0" />
<circle cx="420.06" cy="146.22" r="1.25" fill="#e41a1c" stroke="none" stroke-width="0" />
<circle cx="417.62" cy="145.27" r="1.25" fill="#e41a1c" stroke="none" stroke-width="0" />
<circle cx="434.12" cy="137.68" r="1.25" fill="#e41a1c" stroke="none" stroke-width="0" />
<circle cx="427.75" cy="142.31" r="1.25" fill="#e41a1c" stroke="none" stroke-width="0" />
<circle cx="418.26" cy="144.44" r="1.25" fill="#e41a1c" stroke="none" stroke-width="0" />
<circle cx="430.51" cy="140.59" r="1.25" fill="#e41a1c" stroke="none" stroke-width="0" />
<circle cx="430.91" cy="139.10" r="1.25" fill="#e41a1c" stroke="none" stroke-width="0" />
<circle cx="421.90" cy="141.89" r="1.25" fill="#e41a1c" stroke="none" stroke-width="0" />
<circle cx="426.87" cy="144.07" r="1.25" fill="#e41a1c" stroke="none" stroke-width="0" />
<circle cx="428.42" cy="142.81" r="1.25" fill="#e41a1c" stroke="none" stroke-width="0" />
<circle cx="424.60" cy="144.03" r="1.25" fill="#e41a1c" stroke="none" stroke-width="0" />
<circle cx="419.38" cy="143.62" r="1.25" fill="#e41a1c" stroke="none" stroke-width="0" />
<circle cx="429.97" cy="142.04" r="1.25" fill="#e41a1c" stroke="none" stroke-width="0" />
<circle cx="425.30" cy="140.64" r="1.25" fill="#e41a1c" stroke="none" stroke-width="0" />
<circle cx="422.43" cy="142.19" r="1.25" fill="#e41a1c" stroke="none" stroke-width="0" />
<circle cx="422.70" cy="145.00" r="1.25" fill="#e41a1c" stroke="none" stroke-width="0" />
<circle cx="421.19" cy="145.92" r="1.25" fill="#e41a1c" stroke="none" stroke-width="0" />
<circle cx="433.77" cy="137.68" r="1.25" fill="#e41a1c" stroke="none" stroke-width="0" />
<circle cx="424.51" cy="142.84" r="1.25" fill="#e41a1c" stroke="none" stroke-width="0" />
<circle cx="417.93" cy="144.77" r="1.25" fill="#e41a1c" stroke="none" stroke-width="0" />
<circle cx="434.27" cy="137.77" r="1.25" fill="#e41a1c" stroke="none" stroke-width="0" />
<circle cx="428.54" cy="139.72" r="1.25" fill="#e41a1c" stroke="none" stroke-width="0" />
<circle cx="428.21" cy="143.46" r="1.25" fill="#e41a1c" stroke="none" stroke-width="0" />
<circle cx="421.26" cy="141.60" r="1.25" fill="#e41a1c" stroke="none" stroke-width="0" />
<circle cx="419.04" cy="144.96" r="1.25" fill="#e41a1c" stroke="none" stroke-width="0" />
<circle cx="417.82" cy="143.12" r="1.25" fill="#e41a1c" stroke="none" stroke-width="0" />
<circle cx="426.69" cy="144.12" r="1.25" fill="#e41a1c" stroke="none" stroke-width="0" />
<circle cx="425.27" cy="142.13" r="1.25" fill="#e41a1c" stroke="none" stroke-width="0" />
<circle cx="429.32" cy="139.33" r="1.25" fill="#e41a1c" stroke="none" stroke-width="0" />
<circle cx="428.23" cy="140.07" r="1.25" fill="#e41a1c" stroke="none" stroke-width="0" />
<circle cx="428.76" cy="143.55" r="1.25" fill="#e41a1c" stroke="none" stroke-width="0" />
<circle cx="418.50" cy="145.23" r="1.25" fill="#e41a1c" stroke="none" stroke-width="0" />
<circle cx="428.72" cy="139.79" r="1.25" fill="#e41a1c" stroke="none" stroke-width="0" />
<circle cx="422.46" cy="145.99" r="1.25" fill="#e41a1c" stroke="none" stroke-width="0" />
<circle cx="435.96" cy="137.25" r="1.25" fill="#e41a1c" stroke="none" stroke-width="0" />
<circle cx="430.55" cy="142.88" r="1.25" fill="#e41a1c" stroke="none" stroke-width="0" />
<circle cx="421.88" cy="144.33" r="1.25" fill="#e41a1c" stroke="none" stroke-width="0" />
<circle cx="418.30" cy="144.36" r="1.25" fill="#e41a1c" stroke="none" stroke-width="0" />
<circle cx="429.97" cy="141.41" r="1.25" fill="#e41a1c" stroke="none" stroke-width="0" />
<circle cx="431.83" cy="138.47" r="1.25" fill="#e41a1c" stroke="none" stroke-width="0" />
<circle cx="423.92" cy="144.83" r="1.25" fill="#e41a1c" stroke="none" stroke-width="0" />
<circle cx="428.31" cy="141.34" r="1.25" fill="#e41a1c" stroke="none" stroke-width="0" />
<circle cx="424.94" cy="145.06" r="1.25" fill="#e41a1c" stroke="none" stroke-width="0" />
<circle cx="428.13" cy="139.38" r="1.25" fill="#e41a1c" stroke="none" stroke-width="0" />
<text x="505.10" y="34.30" font-size="6.0" text-anchor="middle" font-weight="normal" fill="#e41a1c"  style="">FST</text>
<text x="447.40" y="83.60" font-size="6.0" text-anchor="middle" font-weight="normal" fill="#e41a1c"  style="">TPI1</text>
<text x="426.30" y="97.30" font-size="6.0" text-anchor="middle" font-weight="normal" fill="#e41a1c"  style="">GAPDH</text>
<text x="450.80" y="105.90" font-size="6.0" text-anchor="middle" font-weight="normal" fill="#e41a1c"  style="">LY6E</text>
<text x="476.70" y="113.60" font-size="6.0" text-anchor="middle" font-weight="normal" fill="#e41a1c"  style="">ADAMTS1</text>
<text x="417.30" y="124.00" font-size="6.0" text-anchor="middle" font-weight="normal" fill="#e41a1c"  style="">UBB</text>
<text x="438.40" y="123.60" font-size="6.0" text-anchor="middle" font-weight="normal" fill="#e41a1c"  style="">KRT7</text>
<text x="455.80" y="124.00" font-size="6.0" text-anchor="middle" font-weight="normal" fill="#e41a1c"  style="">IFI6</text>
<text x="465.20" y="132.50" font-size="6.0" text-anchor="middle" font-weight="normal" fill="#e41a1c"  style="">FOXM1</text>
<text x="439.20" y="135.60" font-size="6.0" text-anchor="middle" font-weight="normal" fill="#e41a1c"  style="">DNAJB1</text>
<rect x="394.40" y="27.40" width="124.80" height="131.80" fill="none" stroke="#b3b3b3" stroke-width="0.6" />
<line x1="392.80" y1="156.70" x2="394.40" y2="156.70" stroke="#555" stroke-width="0.5" />
<text x="390.90" y="159.00" font-size="6.5" text-anchor="end" font-weight="normal" fill="#4d4d4d"  style="">0</text>
<line x1="392.80" y1="127.80" x2="394.40" y2="127.80" stroke="#555" stroke-width="0.5" />
<text x="390.90" y="130.10" font-size="6.5" text-anchor="end" font-weight="normal" fill="#4d4d4d"  style="">10</text>
<line x1="392.80" y1="98.90" x2="394.40" y2="98.90" stroke="#555" stroke-width="0.5" />
<text x="390.90" y="101.20" font-size="6.5" text-anchor="end" font-weight="normal" fill="#4d4d4d"  style="">20</text>
<line x1="392.80" y1="70.00" x2="394.40" y2="70.00" stroke="#555" stroke-width="0.5" />
<text x="390.90" y="72.30" font-size="6.5" text-anchor="end" font-weight="normal" fill="#4d4d4d"  style="">30</text>
<line x1="392.80" y1="41.10" x2="394.40" y2="41.10" stroke="#555" stroke-width="0.5" />
<text x="390.90" y="43.40" font-size="6.5" text-anchor="end" font-weight="normal" fill="#4d4d4d"  style="">40</text>
<line x1="427.40" y1="159.20" x2="427.40" y2="160.80" stroke="#555" stroke-width="0.5" />
<text x="427.40" y="167.00" font-size="6.5" text-anchor="middle" font-weight="normal" fill="#4d4d4d"  style="">0.5</text>
<line x1="470.90" y1="159.20" x2="470.90" y2="160.80" stroke="#555" stroke-width="0.5" />
<text x="470.90" y="167.00" font-size="6.5" text-anchor="middle" font-weight="normal" fill="#4d4d4d"  style="">1.0</text>
<line x1="514.40" y1="159.20" x2="514.40" y2="160.80" stroke="#555" stroke-width="0.5" />
<text x="514.40" y="167.00" font-size="6.5" text-anchor="middle" font-weight="normal" fill="#4d4d4d"  style="">1.5</text>
<text x="452.00" y="176.20" font-size="8.4" text-anchor="middle" font-weight="normal" fill="#1a1a1a"  style="">logFC</text>
<text transform="translate(379.9,96.5) rotate(-90)" font-size="8.5" text-anchor="middle" fill="#1a1a1a">−log<tspan font-size="5.8" dy="2">10</tspan><tspan dy="-2"> (</tspan><tspan font-style="italic">P</tspan> value)</text>
<rect x="87.00" y="235.20" width="47.00" height="46.90" fill="#463cd9" stroke="none" stroke-width="1" />
<rect x="134.00" y="235.20" width="47.00" height="46.90" fill="#e8e6f8" stroke="none" stroke-width="1" />
<rect x="87.00" y="282.10" width="47.00" height="46.60" fill="#aca8ed" stroke="none" stroke-width="1" />
<rect x="134.00" y="282.10" width="47.00" height="46.60" fill="#5a50e3" stroke="none" stroke-width="1" />
<line x1="134.00" y1="235.20" x2="134.00" y2="328.70" stroke="#fff" stroke-width="0.5" />
<line x1="87.00" y1="282.10" x2="181.00" y2="282.10" stroke="#fff" stroke-width="0.5" />
<text x="110.50" y="261.55" font-size="8.1" text-anchor="middle" font-weight="normal" fill="#16163a" stroke="#16163a" stroke-width="0.22" style="">0.95</text>
<text x="157.50" y="261.55" font-size="8.1" text-anchor="middle" font-weight="normal" fill="#16163a" stroke="#16163a" stroke-width="0.22" style="">0.05</text>
<text x="110.50" y="308.30" font-size="8.1" text-anchor="middle" font-weight="normal" fill="#16163a" stroke="#16163a" stroke-width="0.22" style="">0.20</text>
<text x="157.50" y="308.30" font-size="8.1" text-anchor="middle" font-weight="normal" fill="#16163a" stroke="#16163a" stroke-width="0.22" style="">0.80</text>
<text x="133.75" y="223.00" font-size="7.8" text-anchor="middle" font-weight="normal" fill="#111"  style="">Predicted class</text>
<text x="113.40" y="234.20" font-size="7.7" text-anchor="middle" font-weight="normal" fill="#111"  style="">O</text>
<text x="160.40" y="234.20" font-size="7.7" text-anchor="middle" font-weight="normal" fill="#111"  style="">D</text>
<text x="82.75" y="261.45" font-size="7.7" text-anchor="middle" font-weight="normal" fill="#111"  style="">O</text>
<text x="82.75" y="308.20" font-size="7.7" text-anchor="middle" font-weight="normal" fill="#111"  style="">D</text>
<text transform="translate(75.3,281.80) rotate(-90)" font-size="8.0" text-anchor="middle" fill="#111" textLength="35.2" lengthAdjust="spacingAndGlyphs">True class</text>
<defs><linearGradient id="fq235" x1="0" y1="1" x2="0" y2="0"><stop offset="0" stop-color="#ffffff"/><stop offset="1" stop-color="#3f33d9"/></linearGradient></defs>
<rect x="183.60" y="272.50" width="3.40" height="22.50" fill="url(#fq235)" stroke="none" stroke-width="1" />
<text x="183.40" y="269.90" font-size="2.9" text-anchor="start" font-weight="normal" fill="#222"  style="">Freq</text>
<text x="188.60" y="274.10" font-size="2.9" text-anchor="start" font-weight="normal" fill="#222"  style="">1</text>
<text x="188.60" y="284.90" font-size="2.9" text-anchor="start" font-weight="normal" fill="#222"  style="">0.5</text>
<text x="188.60" y="295.70" font-size="2.9" text-anchor="start" font-weight="normal" fill="#222"  style="">0</text>
<text x="6.00" y="260.70" font-size="6.0" text-anchor="start" font-weight="bold" fill="#111"  style="">PT1 (D = 63, O = 7373)</text>
<circle cx="10.60" cy="271.00" r="0.55" fill="#222" stroke="none" stroke-width="0" />
<text x="18.60" y="272.60" font-size="6.3" text-anchor="start" font-weight="normal" fill="#444"  style="">F1 score: 0.58</text>
<circle cx="10.60" cy="278.30" r="0.55" fill="#222" stroke="none" stroke-width="0" />
<text x="18.60" y="279.90" font-size="6.3" text-anchor="start" font-weight="normal" fill="#444"  style="">Precision: 0.45</text>
<circle cx="10.60" cy="285.60" r="0.55" fill="#222" stroke="none" stroke-width="0" />
<text x="18.60" y="287.20" font-size="6.3" text-anchor="start" font-weight="normal" fill="#444"  style="">Recall: 0.76</text>
<line x1="7.70" y1="290.60" x2="56.20" y2="290.60" stroke="#cfcfcf" stroke-width="0.6" />
<rect x="87.00" y="355.10" width="47.00" height="46.90" fill="#4236d8" stroke="none" stroke-width="1" />
<rect x="134.00" y="355.10" width="47.00" height="46.90" fill="#fafafe" stroke="none" stroke-width="1" />
<rect x="87.00" y="402.00" width="47.00" height="46.60" fill="#a5a0eb" stroke="none" stroke-width="1" />
<rect x="134.00" y="402.00" width="47.00" height="46.60" fill="#5d53e4" stroke="none" stroke-width="1" />
<line x1="134.00" y1="355.10" x2="134.00" y2="448.60" stroke="#fff" stroke-width="0.5" />
<line x1="87.00" y1="402.00" x2="181.00" y2="402.00" stroke="#fff" stroke-width="0.5" />
<text x="110.50" y="381.45" font-size="8.1" text-anchor="middle" font-weight="normal" fill="#16163a" stroke="#16163a" stroke-width="0.22" style="">0.99</text>
<text x="157.50" y="381.45" font-size="8.1" text-anchor="middle" font-weight="normal" fill="#16163a" stroke="#16163a" stroke-width="0.22" style="">0.01</text>
<text x="110.50" y="428.20" font-size="8.1" text-anchor="middle" font-weight="normal" fill="#16163a" stroke="#16163a" stroke-width="0.22" style="">0.23</text>
<text x="157.50" y="428.20" font-size="8.1" text-anchor="middle" font-weight="normal" fill="#16163a" stroke="#16163a" stroke-width="0.22" style="">0.77</text>
<text x="133.75" y="342.90" font-size="7.8" text-anchor="middle" font-weight="normal" fill="#111"  style="">Predicted class</text>
<text x="113.40" y="354.10" font-size="7.7" text-anchor="middle" font-weight="normal" fill="#111"  style="">O</text>
<text x="160.40" y="354.10" font-size="7.7" text-anchor="middle" font-weight="normal" fill="#111"  style="">D</text>
<text x="82.75" y="381.35" font-size="7.7" text-anchor="middle" font-weight="normal" fill="#111"  style="">O</text>
<text x="82.75" y="428.10" font-size="7.7" text-anchor="middle" font-weight="normal" fill="#111"  style="">D</text>
<text transform="translate(75.3,401.70) rotate(-90)" font-size="8.0" text-anchor="middle" fill="#111" textLength="35.2" lengthAdjust="spacingAndGlyphs">True class</text>
<defs><linearGradient id="fq355" x1="0" y1="1" x2="0" y2="0"><stop offset="0" stop-color="#ffffff"/><stop offset="1" stop-color="#3f33d9"/></linearGradient></defs>
<rect x="183.60" y="392.40" width="3.40" height="22.50" fill="url(#fq355)" stroke="none" stroke-width="1" />
<text x="183.40" y="389.80" font-size="2.9" text-anchor="start" font-weight="normal" fill="#222"  style="">Freq</text>
<text x="188.60" y="394.00" font-size="2.9" text-anchor="start" font-weight="normal" fill="#222"  style="">1</text>
<text x="188.60" y="404.80" font-size="2.9" text-anchor="start" font-weight="normal" fill="#222"  style="">0.5</text>
<text x="188.60" y="415.60" font-size="2.9" text-anchor="start" font-weight="normal" fill="#222"  style="">0</text>
<text x="6.00" y="380.60" font-size="6.0" text-anchor="start" font-weight="bold" fill="#111"  style="">PT5 (D = 222, O = 2253)</text>
<circle cx="10.60" cy="390.90" r="0.55" fill="#222" stroke="none" stroke-width="0" />
<text x="18.60" y="392.50" font-size="6.3" text-anchor="start" font-weight="normal" fill="#444"  style="">F1 score: 0.74</text>
<circle cx="10.60" cy="398.20" r="0.55" fill="#222" stroke="none" stroke-width="0" />
<text x="18.60" y="399.80" font-size="6.3" text-anchor="start" font-weight="normal" fill="#444"  style="">Precision: 0.70</text>
<circle cx="10.60" cy="405.50" r="0.55" fill="#222" stroke="none" stroke-width="0" />
<text x="18.60" y="407.10" font-size="6.3" text-anchor="start" font-weight="normal" fill="#444"  style="">Recall: 0.79</text>
<line x1="7.70" y1="410.50" x2="56.20" y2="410.50" stroke="#cfcfcf" stroke-width="0.6" />
<g>
<circle cx="241.00" cy="255.30" r="28.70" fill="#0073C2" stroke="none" stroke-width="0" fill-opacity="0.52"/>
<circle cx="278.80" cy="255.30" r="28.70" fill="#EFC000" stroke="none" stroke-width="0" fill-opacity="0.55"/>
<circle cx="260.00" cy="290.80" r="28.70" fill="#868686" stroke="none" stroke-width="0" fill-opacity="0.5"/>
<circle cx="241.00" cy="255.30" r="28.70" fill="none" stroke="#333" stroke-width="0.45" stroke-opacity="0.7"/>
<circle cx="278.80" cy="255.30" r="28.70" fill="none" stroke="#333" stroke-width="0.45" stroke-opacity="0.7"/>
<circle cx="260.00" cy="290.80" r="28.70" fill="none" stroke="#333" stroke-width="0.45" stroke-opacity="0.7"/>
</g>
<text x="237.00" y="221.90" font-size="4.4" text-anchor="middle" font-weight="normal" fill="#111"  style="">Single–PT PT5</text>
<text x="282.40" y="221.90" font-size="4.4" text-anchor="middle" font-weight="normal" fill="#111"  style="">Single–NN PT5</text>
<text x="260.00" y="327.60" font-size="4.4" text-anchor="middle" font-weight="normal" fill="#111"  style="">Classification</text>
<text x="237.10" y="254.00" font-size="5.3" text-anchor="middle" font-weight="normal" fill="#1c1c28"  style="">61</text>
<text x="237.10" y="261.40" font-size="5.3" text-anchor="middle" font-weight="normal" fill="#1c1c28"  style="">(36.7%)</text>
<text x="259.50" y="248.10" font-size="5.3" text-anchor="middle" font-weight="normal" fill="#1c1c28"  style="">47</text>
<text x="259.50" y="255.50" font-size="5.3" text-anchor="middle" font-weight="normal" fill="#1c1c28"  style="">(28.3%)</text>
<text x="282.40" y="254.00" font-size="5.3" text-anchor="middle" font-weight="normal" fill="#1c1c28"  style="">8</text>
<text x="282.40" y="261.40" font-size="5.3" text-anchor="middle" font-weight="normal" fill="#1c1c28"  style="">(4.8%)</text>
<text x="259.50" y="265.50" font-size="5.3" text-anchor="middle" font-weight="normal" fill="#1c1c28"  style="">22</text>
<text x="259.50" y="272.90" font-size="5.3" text-anchor="middle" font-weight="normal" fill="#1c1c28"  style="">(13.3%)</text>
<text x="245.70" y="271.10" font-size="5.3" text-anchor="middle" font-weight="normal" fill="#1c1c28"  style="">5</text>
<text x="245.70" y="278.50" font-size="5.3" text-anchor="middle" font-weight="normal" fill="#1c1c28"  style="">(3.0%)</text>
<text x="274.20" y="271.10" font-size="5.3" text-anchor="middle" font-weight="normal" fill="#1c1c28"  style="">1</text>
<text x="274.20" y="278.50" font-size="5.3" text-anchor="middle" font-weight="normal" fill="#1c1c28"  style="">(0.6%)</text>
<text x="259.50" y="289.10" font-size="5.3" text-anchor="middle" font-weight="normal" fill="#1c1c28"  style="">22</text>
<text x="259.50" y="296.50" font-size="5.3" text-anchor="middle" font-weight="normal" fill="#1c1c28"  style="">(13.3%)</text>
<g>
<circle cx="241.00" cy="375.60" r="28.70" fill="#0073C2" stroke="none" stroke-width="0" fill-opacity="0.52"/>
<circle cx="278.80" cy="375.60" r="28.70" fill="#EFC000" stroke="none" stroke-width="0" fill-opacity="0.55"/>
<circle cx="260.00" cy="411.10" r="28.70" fill="#868686" stroke="none" stroke-width="0" fill-opacity="0.5"/>
<circle cx="241.00" cy="375.60" r="28.70" fill="none" stroke="#333" stroke-width="0.45" stroke-opacity="0.7"/>
<circle cx="278.80" cy="375.60" r="28.70" fill="none" stroke="#333" stroke-width="0.45" stroke-opacity="0.7"/>
<circle cx="260.00" cy="411.10" r="28.70" fill="none" stroke="#333" stroke-width="0.45" stroke-opacity="0.7"/>
</g>
<text x="237.00" y="342.20" font-size="4.4" text-anchor="middle" font-weight="normal" fill="#111"  style="">Single–PT PT1</text>
<text x="282.40" y="342.20" font-size="4.4" text-anchor="middle" font-weight="normal" fill="#111"  style="">Single–NN PT1</text>
<text x="260.00" y="447.90" font-size="4.4" text-anchor="middle" font-weight="normal" fill="#111"  style="">Classification</text>
<text x="237.10" y="374.30" font-size="5.3" text-anchor="middle" font-weight="normal" fill="#1c1c28"  style="">93</text>
<text x="237.10" y="381.70" font-size="5.3" text-anchor="middle" font-weight="normal" fill="#1c1c28"  style="">(45.4%)</text>
<text x="259.50" y="368.40" font-size="5.3" text-anchor="middle" font-weight="normal" fill="#1c1c28"  style="">47</text>
<text x="259.50" y="375.80" font-size="5.3" text-anchor="middle" font-weight="normal" fill="#1c1c28"  style="">(22.9%)</text>
<text x="282.40" y="374.30" font-size="5.3" text-anchor="middle" font-weight="normal" fill="#1c1c28"  style="">19</text>
<text x="282.40" y="381.70" font-size="5.3" text-anchor="middle" font-weight="normal" fill="#1c1c28"  style="">(9.3%)</text>
<text x="259.50" y="385.80" font-size="5.3" text-anchor="middle" font-weight="normal" fill="#1c1c28"  style="">6</text>
<text x="259.50" y="393.20" font-size="5.3" text-anchor="middle" font-weight="normal" fill="#1c1c28"  style="">(2.9%)</text>
<text x="245.70" y="391.50" font-size="5.3" text-anchor="middle" font-weight="normal" fill="#1c1c28"  style="">7</text>
<text x="245.70" y="398.90" font-size="5.3" text-anchor="middle" font-weight="normal" fill="#1c1c28"  style="">(3.4%)</text>
<text x="274.20" y="391.50" font-size="5.3" text-anchor="middle" font-weight="normal" fill="#1c1c28"  style="">3</text>
<text x="274.20" y="398.90" font-size="5.3" text-anchor="middle" font-weight="normal" fill="#1c1c28"  style="">(1.5%)</text>
<text x="259.50" y="409.40" font-size="5.3" text-anchor="middle" font-weight="normal" fill="#1c1c28"  style="">30</text>
<text x="259.50" y="416.80" font-size="5.3" text-anchor="middle" font-weight="normal" fill="#1c1c28"  style="">(14.6%)</text>
<text x="434.45" y="251.10" font-size="7.2" text-anchor="middle" font-weight="bold" fill="#111" textLength="81.50" lengthAdjust="spacingAndGlyphs" >RFS TNBC: METABRIC</text>
<path d="M359.60,253.80 H361.00 V254.00 H362.25 V256.75 H363.50 V259.50 H364.40 V263.25 H365.30 V267.00 H366.55 V275.50 H367.80 V284.00 H369.00 V287.00 H370.20 V290.00 H371.50 V295.20 H372.80 V300.40 H374.10 V305.60 H375.40 V310.80 H377.10 V316.00 H378.27 V317.43 H379.43 V318.87 H380.60 V320.30 H381.73 V321.43 H382.87 V322.57 H384.00 V323.70 H385.30 V324.35 H386.60 V325.00 H387.90 V325.65 H389.20 V326.30 H390.53 V327.47 H391.87 V328.63 H393.20 V329.80 H420.20 V334.80 H442.00 V342.70 H448.80 V347.30 H508.50" fill="none" stroke="#ece066" stroke-width="1.8" stroke-linejoin="miter"/>
<path d="M371.54,293.50V296.90M374.18,303.90V307.30M378.50,316.45V319.85M382.57,320.30V323.70M385.09,322.65V326.05M391.47,326.35V329.75M394.44,328.10V331.50M396.68,328.10V331.50M401.27,328.10V331.50M402.98,328.10V331.50M405.65,328.10V331.50M407.45,328.10V331.50M412.50,328.10V331.50M417.16,328.10V331.50M419.32,328.10V331.50M421.76,333.10V336.50M425.96,333.10V336.50M429.05,333.10V336.50M431.20,333.10V336.50M433.53,333.10V336.50M435.83,333.10V336.50M438.43,333.10V336.50M443.48,341.00V344.40M449.64,345.60V349.00M458.92,345.60V349.00M461.23,345.60V349.00M463.00,345.60V349.00M465.67,345.60V349.00M470.05,345.60V349.00M471.74,345.60V349.00M474.44,345.60V349.00M478.74,345.60V349.00M481.04,345.60V349.00M483.38,345.60V349.00M487.89,345.60V349.00M489.37,345.60V349.00M491.54,345.60V349.00M494.05,345.60V349.00M496.06,345.60V349.00M498.84,345.60V349.00M501.13,345.60V349.00M505.15,345.60V349.00M507.51,345.60V349.00" stroke="#ece066" stroke-width="0.7" fill="none"/>
<path d="M359.60,253.80 H361.00 V254.20 H362.00 V255.60 H363.00 V257.00 H364.50 V258.50 H366.00 V260.00 H366.90 V263.50 H367.80 V267.00 H368.90 V273.75 H370.00 V280.50 H371.45 V281.75 H372.90 V283.00 H373.97 V283.50 H375.03 V284.00 H376.10 V284.50 H377.45 V285.05 H378.80 V285.60 H380.20 V286.40 H381.25 V289.10 H382.30 V291.80 H390.80 V295.20 H401.40 V296.70 H409.20 V300.90 H425.30 V303.00 H443.00 V305.50 H453.40 V308.50 H457.50 V312.40 H502.30" fill="none" stroke="#3d2c84" stroke-width="1.8" stroke-linejoin="miter"/>
<path d="M364.55,256.80V260.20M371.80,280.05V283.45M374.44,282.05V285.45M377.24,283.35V286.75M384.10,290.10V293.50M386.59,290.10V293.50M389.32,290.10V293.50M391.74,293.50V296.90M394.88,293.50V296.90M397.53,293.50V296.90M400.22,293.50V296.90M402.87,295.00V298.40M404.92,295.00V298.40M408.04,295.00V298.40M412.62,299.20V302.60M414.81,299.20V302.60M417.10,299.20V302.60M419.63,299.20V302.60M421.75,299.20V302.60M423.77,299.20V302.60M426.59,301.30V304.70M428.40,301.30V304.70M432.79,301.30V304.70M435.41,301.30V304.70M437.33,301.30V304.70M439.95,301.30V304.70M442.18,301.30V304.70M444.17,303.80V307.20M447.21,303.80V307.20M449.28,303.80V307.20M452.12,303.80V307.20M455.70,306.80V310.20M460.68,310.70V314.10M465.59,310.70V314.10M467.28,310.70V314.10M470.06,310.70V314.10M471.94,310.70V314.10M474.24,310.70V314.10M476.88,310.70V314.10M478.38,310.70V314.10M488.10,310.70V314.10M492.42,310.70V314.10M496.72,310.70V314.10M498.81,310.70V314.10M500.83,310.70V314.10" stroke="#3d2c84" stroke-width="0.7" fill="none"/>
<rect x="354.20" y="253.90" width="160.50" height="159.50" fill="none" stroke="#8a8a8a" stroke-width="0.6" />
<line x1="352.20" y1="413.40" x2="354.20" y2="413.40" stroke="#555" stroke-width="0.45" />
<text x="350.70" y="415.10" font-size="4.7" text-anchor="end" font-weight="normal" fill="#333" textLength="6.60" lengthAdjust="spacingAndGlyphs" >0.0</text>
<line x1="352.20" y1="381.50" x2="354.20" y2="381.50" stroke="#555" stroke-width="0.45" />
<text x="350.70" y="383.20" font-size="4.7" text-anchor="end" font-weight="normal" fill="#333" textLength="6.60" lengthAdjust="spacingAndGlyphs" >0.2</text>
<line x1="352.20" y1="349.60" x2="354.20" y2="349.60" stroke="#555" stroke-width="0.45" />
<text x="350.70" y="351.30" font-size="4.7" text-anchor="end" font-weight="normal" fill="#333" textLength="6.60" lengthAdjust="spacingAndGlyphs" >0.4</text>
<line x1="352.20" y1="317.70" x2="354.20" y2="317.70" stroke="#555" stroke-width="0.45" />
<text x="350.70" y="319.40" font-size="4.7" text-anchor="end" font-weight="normal" fill="#333" textLength="6.60" lengthAdjust="spacingAndGlyphs" >0.6</text>
<line x1="352.20" y1="285.80" x2="354.20" y2="285.80" stroke="#555" stroke-width="0.45" />
<text x="350.70" y="287.50" font-size="4.7" text-anchor="end" font-weight="normal" fill="#333" textLength="6.60" lengthAdjust="spacingAndGlyphs" >0.8</text>
<line x1="352.20" y1="253.90" x2="354.20" y2="253.90" stroke="#555" stroke-width="0.45" />
<text x="350.70" y="255.60" font-size="4.7" text-anchor="end" font-weight="normal" fill="#333" textLength="6.60" lengthAdjust="spacingAndGlyphs" >1.0</text>
<line x1="359.50" y1="413.40" x2="359.50" y2="415.40" stroke="#555" stroke-width="0.45" />
<text x="359.50" y="420.40" font-size="4.8" text-anchor="middle" font-weight="normal" fill="#333" textLength="2.60" lengthAdjust="spacingAndGlyphs" >0</text>
<line x1="391.05" y1="413.40" x2="391.05" y2="415.40" stroke="#555" stroke-width="0.45" />
<text x="391.05" y="420.40" font-size="4.8" text-anchor="middle" font-weight="normal" fill="#333" textLength="13.00" lengthAdjust="spacingAndGlyphs" >2,000</text>
<line x1="422.60" y1="413.40" x2="422.60" y2="415.40" stroke="#555" stroke-width="0.45" />
<text x="422.60" y="420.40" font-size="4.8" text-anchor="middle" font-weight="normal" fill="#333" textLength="13.00" lengthAdjust="spacingAndGlyphs" >4,000</text>
<line x1="454.15" y1="413.40" x2="454.15" y2="415.40" stroke="#555" stroke-width="0.45" />
<text x="454.15" y="420.40" font-size="4.8" text-anchor="middle" font-weight="normal" fill="#333" textLength="13.00" lengthAdjust="spacingAndGlyphs" >6,000</text>
<line x1="485.70" y1="413.40" x2="485.70" y2="415.40" stroke="#555" stroke-width="0.45" />
<text x="485.70" y="420.40" font-size="4.8" text-anchor="middle" font-weight="normal" fill="#333" textLength="13.00" lengthAdjust="spacingAndGlyphs" >8,000</text>
<text x="434.45" y="428.80" font-size="6.8" text-anchor="middle" font-weight="normal" fill="#222" textLength="32.60" lengthAdjust="spacingAndGlyphs" >Time <tspan font-style="italic">t</tspan> (d)</text>
<text transform="translate(339.20,341.60) rotate(-90)" font-size="6.5" text-anchor="middle" fill="#1a1a1a" textLength="78.0" lengthAdjust="spacingAndGlyphs">est. probability of survival Ŝ(<tspan font-style="italic">t</tspan>)</text>
<rect x="457.2" y="256.3" width="55.20" height="15.30" rx="1" fill="#fff" fill-opacity="0.85" stroke="#d8d8d8" stroke-width="0.5"/>
<line x1="458.50" y1="260.58" x2="470.20" y2="260.58" stroke="#3d2c84" stroke-width="1.8" />
<line x1="458.50" y1="267.32" x2="470.20" y2="267.32" stroke="#ece066" stroke-width="1.8" />
<line x1="464.20" y1="259.08" x2="464.20" y2="262.08" stroke="#3d2c84" stroke-width="0.7" />
<line x1="464.20" y1="265.82" x2="464.20" y2="268.82" stroke="#ece066" stroke-width="0.7" />
<text x="472.50" y="262.28" font-size="4.7" text-anchor="start" font-weight="normal" fill="#222" textLength="38.30" lengthAdjust="spacingAndGlyphs" >Down (<tspan font-style="italic">n</tspan> = 112)</text>
<text x="472.50" y="269.02" font-size="4.7" text-anchor="start" font-weight="normal" fill="#222" textLength="30.20" lengthAdjust="spacingAndGlyphs" >Up (<tspan font-style="italic">n</tspan> = 105)</text>
<text x="467.10" y="291.00" font-size="4.8" text-anchor="start" font-weight="normal" fill="#222" textLength="41.30" lengthAdjust="spacingAndGlyphs" ><tspan font-style="italic">P</tspan> value = 1.00e-03</text>
<text x="467.10" y="296.90" font-size="4.8" text-anchor="start" font-weight="normal" fill="#222" textLength="31.50" lengthAdjust="spacingAndGlyphs" >C-index = 0.66</text>
<text x="434.65" y="469.60" font-size="7.2" text-anchor="middle" font-weight="bold" fill="#111" textLength="104.00" lengthAdjust="spacingAndGlyphs" >RFS TNBC: merged cohorts</text>
<path d="M361.20,472.50 H362.60 V473.07 H364.00 V473.63 H365.40 V474.20 H366.43 V475.73 H367.47 V477.27 H368.50 V478.80 H370.00 V486.50 H371.50 V492.70 H372.53 V495.27 H373.57 V497.83 H374.60 V500.40 H375.90 V502.97 H377.20 V505.53 H378.50 V508.10 H379.65 V511.95 H380.80 V515.80 H381.95 V518.85 H383.10 V521.90 H384.37 V522.93 H385.63 V523.97 H386.90 V525.00 H388.05 V525.38 H389.20 V525.75 H390.35 V526.12 H391.50 V526.50 H392.74 V526.82 H393.98 V527.14 H395.22 V527.46 H396.46 V527.78 H397.70 V528.10 H398.85 V528.48 H400.00 V528.85 H401.15 V529.23 H402.30 V529.60 H403.33 V530.63 H404.37 V531.67 H405.40 V532.70 H406.62 V533.32 H407.84 V533.94 H409.06 V534.56 H410.28 V535.18 H411.50 V535.80 H412.74 V536.10 H413.98 V536.40 H415.22 V536.70 H416.46 V537.00 H417.70 V537.30 H418.85 V540.00 H420.00 V542.70 H421.20 V542.71 H422.39 V542.71 H423.59 V542.72 H424.78 V542.73 H425.98 V542.73 H427.18 V542.74 H428.37 V542.75 H429.57 V542.75 H430.76 V542.76 H431.96 V542.77 H433.16 V542.77 H434.35 V542.78 H435.55 V542.79 H436.74 V542.79 H437.94 V542.80 H439.14 V542.81 H440.33 V542.81 H441.53 V542.82 H442.72 V542.83 H443.92 V542.84 H445.11 V542.84 H446.31 V542.85 H447.51 V542.86 H448.70 V542.86 H449.90 V542.87 H451.09 V542.88 H452.29 V542.88 H453.49 V542.89 H454.68 V542.90 H455.88 V542.90 H457.07 V542.91 H458.27 V542.92 H459.47 V542.92 H460.66 V542.93 H461.86 V542.94 H463.05 V542.94 H464.25 V542.95 H465.45 V542.96 H466.64 V542.96 H467.84 V542.97 H469.03 V542.98 H470.23 V542.98 H471.43 V542.99 H472.62 V543.00 H473.82 V543.00 H475.01 V543.01 H476.21 V543.02 H477.41 V543.02 H478.60 V543.03 H479.80 V543.04 H480.99 V543.04 H482.19 V543.05 H483.39 V543.06 H484.58 V543.06 H485.78 V543.07 H486.97 V543.08 H488.17 V543.09 H489.36 V543.09 H490.56 V543.10 H491.76 V543.11 H492.95 V543.11 H494.15 V543.12 H495.34 V543.13 H496.54 V543.13 H497.74 V543.14 H498.93 V543.15 H500.13 V543.15 H501.32 V543.16 H502.52 V543.17 H503.72 V543.17 H504.91 V543.18 H506.11 V543.19 H507.30 V543.19 H508.50 V543.20" fill="none" stroke="#ece066" stroke-width="1.8" stroke-linejoin="miter"/>
<path d="M362.98,471.65V475.05M366.67,474.80V478.20M372.97,494.85V498.25M387.83,523.67V527.08M390.17,524.42V527.83M392.73,525.20V528.60M396.49,526.00V529.40M406.77,531.77V535.18M410.16,533.32V536.73M421.19,541.01V544.41M423.32,541.02V544.42M425.51,541.03V544.43M428.09,541.04V544.44M432.01,541.07V544.47M436.90,541.09V544.49M440.95,541.12V544.52M443.18,541.13V544.53M445.29,541.14V544.54M449.51,541.17V544.57M451.91,541.18V544.58M454.27,541.19V544.59M456.90,541.21V544.61M458.65,541.22V544.62M461.04,541.23V544.63M463.03,541.24V544.64M465.21,541.26V544.66M467.89,541.27V544.67M469.43,541.28V544.68M472.21,541.29V544.69M474.00,541.31V544.71M476.16,541.32V544.72M478.27,541.33V544.73M481.16,541.34V544.74M485.64,541.37V544.77M487.31,541.38V544.78M491.83,541.41V544.81M496.59,541.43V544.83M498.30,541.44V544.84M500.47,541.46V544.86M503.34,541.47V544.87M504.79,541.48V544.88M507.13,541.49V544.89" stroke="#ece066" stroke-width="0.7" fill="none"/>
<path d="M361.20,472.50 H362.34 V472.70 H363.48 V472.90 H364.62 V473.10 H365.76 V473.30 H366.90 V473.50 H368.05 V475.00 H369.20 V476.50 H370.80 V481.90 H372.30 V486.50 H373.80 V489.60 H374.83 V489.87 H375.87 V490.13 H376.90 V490.40 H378.05 V491.55 H379.20 V492.70 H380.23 V493.73 H381.27 V494.77 H382.30 V495.80 H383.45 V497.30 H384.60 V498.80 H385.90 V499.33 H387.20 V499.87 H388.50 V500.40 H389.77 V501.17 H391.03 V501.93 H392.30 V502.70 H393.45 V503.45 H394.60 V504.20 H395.75 V504.60 H396.90 V505.00 H398.05 V505.40 H399.20 V505.80 H496.00" fill="none" stroke="#3d2c84" stroke-width="1.8" stroke-linejoin="miter"/>
<path d="M362.52,471.05V474.45M365.15,471.55V474.95M380.52,492.55V495.95M386.19,497.90V501.30M390.54,499.85V503.25M395.38,502.90V506.30M397.85,503.70V507.10M402.52,504.10V507.50M404.63,504.10V507.50M408.89,504.10V507.50M410.93,504.10V507.50M413.30,504.10V507.50M419.73,504.10V507.50M422.09,504.10V507.50M424.29,504.10V507.50M428.54,504.10V507.50M433.69,504.10V507.50M435.82,504.10V507.50M437.93,504.10V507.50M439.90,504.10V507.50M441.87,504.10V507.50M451.03,504.10V507.50M453.21,504.10V507.50M457.62,504.10V507.50M459.51,504.10V507.50M466.68,504.10V507.50M470.34,504.10V507.50M475.47,504.10V507.50M476.95,504.10V507.50M479.61,504.10V507.50M481.90,504.10V507.50M485.70,504.10V507.50M490.80,504.10V507.50M492.95,504.10V507.50M495.20,504.10V507.50" stroke="#3d2c84" stroke-width="0.7" fill="none"/>
<rect x="354.30" y="472.20" width="160.70" height="159.30" fill="none" stroke="#8a8a8a" stroke-width="0.6" />
<line x1="352.30" y1="631.50" x2="354.30" y2="631.50" stroke="#555" stroke-width="0.45" />
<text x="350.80" y="633.20" font-size="4.7" text-anchor="end" font-weight="normal" fill="#333" textLength="6.60" lengthAdjust="spacingAndGlyphs" >0.0</text>
<line x1="352.30" y1="599.64" x2="354.30" y2="599.64" stroke="#555" stroke-width="0.45" />
<text x="350.80" y="601.34" font-size="4.7" text-anchor="end" font-weight="normal" fill="#333" textLength="6.60" lengthAdjust="spacingAndGlyphs" >0.2</text>
<line x1="352.30" y1="567.78" x2="354.30" y2="567.78" stroke="#555" stroke-width="0.45" />
<text x="350.80" y="569.48" font-size="4.7" text-anchor="end" font-weight="normal" fill="#333" textLength="6.60" lengthAdjust="spacingAndGlyphs" >0.4</text>
<line x1="352.30" y1="535.92" x2="354.30" y2="535.92" stroke="#555" stroke-width="0.45" />
<text x="350.80" y="537.62" font-size="4.7" text-anchor="end" font-weight="normal" fill="#333" textLength="6.60" lengthAdjust="spacingAndGlyphs" >0.6</text>
<line x1="352.30" y1="504.06" x2="354.30" y2="504.06" stroke="#555" stroke-width="0.45" />
<text x="350.80" y="505.76" font-size="4.7" text-anchor="end" font-weight="normal" fill="#333" textLength="6.60" lengthAdjust="spacingAndGlyphs" >0.8</text>
<line x1="352.30" y1="472.20" x2="354.30" y2="472.20" stroke="#555" stroke-width="0.45" />
<text x="350.80" y="473.90" font-size="4.7" text-anchor="end" font-weight="normal" fill="#333" textLength="6.60" lengthAdjust="spacingAndGlyphs" >1.0</text>
<line x1="361.50" y1="631.50" x2="361.50" y2="633.50" stroke="#555" stroke-width="0.45" />
<text x="361.50" y="638.50" font-size="4.8" text-anchor="middle" font-weight="normal" fill="#333" textLength="2.60" lengthAdjust="spacingAndGlyphs" >0</text>
<line x1="379.80" y1="631.50" x2="379.80" y2="633.50" stroke="#555" stroke-width="0.45" />
<text x="379.80" y="638.50" font-size="4.8" text-anchor="middle" font-weight="normal" fill="#333" textLength="13.00" lengthAdjust="spacingAndGlyphs" >1,000</text>
<line x1="398.10" y1="631.50" x2="398.10" y2="633.50" stroke="#555" stroke-width="0.45" />
<text x="398.10" y="638.50" font-size="4.8" text-anchor="middle" font-weight="normal" fill="#333" textLength="13.00" lengthAdjust="spacingAndGlyphs" >2,000</text>
<line x1="416.40" y1="631.50" x2="416.40" y2="633.50" stroke="#555" stroke-width="0.45" />
<text x="416.40" y="638.50" font-size="4.8" text-anchor="middle" font-weight="normal" fill="#333" textLength="13.00" lengthAdjust="spacingAndGlyphs" >3,000</text>
<line x1="434.70" y1="631.50" x2="434.70" y2="633.50" stroke="#555" stroke-width="0.45" />
<text x="434.70" y="638.50" font-size="4.8" text-anchor="middle" font-weight="normal" fill="#333" textLength="13.00" lengthAdjust="spacingAndGlyphs" >4,000</text>
<line x1="453.00" y1="631.50" x2="453.00" y2="633.50" stroke="#555" stroke-width="0.45" />
<text x="453.00" y="638.50" font-size="4.8" text-anchor="middle" font-weight="normal" fill="#333" textLength="13.00" lengthAdjust="spacingAndGlyphs" >5,000</text>
<line x1="471.30" y1="631.50" x2="471.30" y2="633.50" stroke="#555" stroke-width="0.45" />
<text x="471.30" y="638.50" font-size="4.8" text-anchor="middle" font-weight="normal" fill="#333" textLength="13.00" lengthAdjust="spacingAndGlyphs" >6,000</text>
<line x1="489.60" y1="631.50" x2="489.60" y2="633.50" stroke="#555" stroke-width="0.45" />
<text x="489.60" y="638.50" font-size="4.8" text-anchor="middle" font-weight="normal" fill="#333" textLength="13.00" lengthAdjust="spacingAndGlyphs" >7,000</text>
<line x1="507.90" y1="631.50" x2="507.90" y2="633.50" stroke="#555" stroke-width="0.45" />
<text x="507.90" y="638.50" font-size="4.8" text-anchor="middle" font-weight="normal" fill="#333" textLength="13.00" lengthAdjust="spacingAndGlyphs" >8,000</text>
<text x="434.65" y="647.50" font-size="6.8" text-anchor="middle" font-weight="normal" fill="#222" textLength="32.60" lengthAdjust="spacingAndGlyphs" >Time <tspan font-style="italic">t</tspan> (d)</text>
<text transform="translate(339.20,543.00) rotate(-90)" font-size="6.5" text-anchor="middle" fill="#1a1a1a" textLength="78.0" lengthAdjust="spacingAndGlyphs">est. probability of survival Ŝ(<tspan font-style="italic">t</tspan>)</text>
<rect x="457.5" y="474.8" width="54.80" height="15.10" rx="1" fill="#fff" fill-opacity="0.85" stroke="#d8d8d8" stroke-width="0.5"/>
<line x1="458.80" y1="479.03" x2="470.50" y2="479.03" stroke="#3d2c84" stroke-width="1.8" />
<line x1="458.80" y1="485.67" x2="470.50" y2="485.67" stroke="#ece066" stroke-width="1.8" />
<line x1="464.50" y1="477.53" x2="464.50" y2="480.53" stroke="#3d2c84" stroke-width="0.7" />
<line x1="464.50" y1="484.17" x2="464.50" y2="487.17" stroke="#ece066" stroke-width="0.7" />
<text x="472.80" y="480.73" font-size="4.7" text-anchor="start" font-weight="normal" fill="#222" textLength="37.80" lengthAdjust="spacingAndGlyphs" >Down (<tspan font-style="italic">n</tspan> = 185)</text>
<text x="472.80" y="487.37" font-size="4.7" text-anchor="start" font-weight="normal" fill="#222" textLength="30.90" lengthAdjust="spacingAndGlyphs" >Up (<tspan font-style="italic">n</tspan> = 186)</text>
<text x="462.20" y="517.20" font-size="5.0" text-anchor="start" font-weight="normal" fill="#222" textLength="46.20" lengthAdjust="spacingAndGlyphs" ><tspan font-style="italic">P</tspan> value = 8.07e-04</text>
<line x1="70.75" y1="482.00" x2="70.75" y2="608.30" stroke="#666" stroke-width="0.6" stroke-dasharray="1.6,1.2"/>
<line x1="92.50" y1="488.00" x2="169.50" y2="488.00" stroke="#333" stroke-width="1.0" />
<line x1="92.50" y1="486.40" x2="92.50" y2="489.60" stroke="#333" stroke-width="0.8" />
<line x1="169.50" y1="486.40" x2="169.50" y2="489.60" stroke="#333" stroke-width="0.8" />
<rect x="119.85" y="486.10" width="3.80" height="3.80" fill="#fff" stroke="#111" stroke-width="0.9" />
<line x1="79.50" y1="545.00" x2="111.25" y2="545.00" stroke="#333" stroke-width="1.0" />
<line x1="79.50" y1="543.40" x2="79.50" y2="546.60" stroke="#333" stroke-width="0.8" />
<line x1="111.25" y1="543.40" x2="111.25" y2="546.60" stroke="#333" stroke-width="0.8" />
<rect x="91.10" y="543.10" width="3.80" height="3.80" fill="#fff" stroke="#111" stroke-width="0.9" />
<line x1="63.50" y1="602.90" x2="71.90" y2="602.90" stroke="#333" stroke-width="1.0" />
<line x1="63.50" y1="601.30" x2="63.50" y2="604.50" stroke="#333" stroke-width="0.8" />
<line x1="71.90" y1="601.30" x2="71.90" y2="604.50" stroke="#333" stroke-width="0.8" />
<rect x="65.50" y="601.00" width="3.80" height="3.80" fill="#fff" stroke="#111" stroke-width="0.9" />
<rect x="58.40" y="482.00" width="115.40" height="126.30" fill="none" stroke="#777" stroke-width="0.6" />
<line x1="56.40" y1="488.00" x2="58.40" y2="488.00" stroke="#444" stroke-width="0.5" />
<text x="54.10" y="490.40" font-size="6.7" text-anchor="end" font-weight="normal" fill="#222" textLength="49.60" lengthAdjust="spacingAndGlyphs" >Signature score</text>
<line x1="56.40" y1="545.00" x2="58.40" y2="545.00" stroke="#444" stroke-width="0.5" />
<text x="54.10" y="547.40" font-size="6.7" text-anchor="end" font-weight="normal" fill="#222" textLength="18.40" lengthAdjust="spacingAndGlyphs" >Stage</text>
<line x1="56.40" y1="602.90" x2="58.40" y2="602.90" stroke="#444" stroke-width="0.5" />
<text x="54.10" y="605.30" font-size="6.7" text-anchor="end" font-weight="normal" fill="#222" textLength="12.00" lengthAdjust="spacingAndGlyphs" >Age</text>
<line x1="70.75" y1="608.30" x2="70.75" y2="610.30" stroke="#444" stroke-width="0.5" />
<text x="70.75" y="617.10" font-size="6.7" text-anchor="middle" font-weight="normal" fill="#222"  style="">1</text>
<line x1="91.94" y1="608.30" x2="91.94" y2="610.30" stroke="#444" stroke-width="0.5" />
<text x="91.94" y="617.10" font-size="6.7" text-anchor="middle" font-weight="normal" fill="#222"  style="">2</text>
<line x1="113.13" y1="608.30" x2="113.13" y2="610.30" stroke="#444" stroke-width="0.5" />
<text x="113.13" y="617.10" font-size="6.7" text-anchor="middle" font-weight="normal" fill="#222"  style="">3</text>
<line x1="134.32" y1="608.30" x2="134.32" y2="610.30" stroke="#444" stroke-width="0.5" />
<text x="134.32" y="617.10" font-size="6.7" text-anchor="middle" font-weight="normal" fill="#222"  style="">4</text>
<line x1="155.51" y1="608.30" x2="155.51" y2="610.30" stroke="#444" stroke-width="0.5" />
<text x="155.51" y="617.10" font-size="6.7" text-anchor="middle" font-weight="normal" fill="#222"  style="">5</text>
<text x="116.25" y="478.70" font-size="7.7" text-anchor="middle" font-weight="normal" fill="#111" textLength="37.20" lengthAdjust="spacingAndGlyphs" >RFS TNBC</text>
<text x="116.50" y="626.50" font-size="6.7" text-anchor="middle" font-weight="normal" fill="#222" textLength="38.60" lengthAdjust="spacingAndGlyphs" >HR (95% CI)</text>
<text x="104.30" y="594.40" font-size="4.6" text-anchor="start" font-weight="normal" fill="#222" textLength="66.40" lengthAdjust="spacingAndGlyphs" >HR = 3.39 (95% CI, 2.04–5.65)</text>
<text x="104.30" y="599.50" font-size="4.6" text-anchor="start" font-weight="normal" fill="#222" textLength="40.40" lengthAdjust="spacingAndGlyphs" ><tspan font-style="italic">P</tspan> value = 2.57e-06</text>
<path d="M234.30,496.80 C234.15,496.88 233.65,496.63 233.40,497.30 C233.15,497.97 233.13,499.45 232.80,500.80 C232.47,502.15 232.15,503.87 231.40,505.40 C230.65,506.93 229.35,508.47 228.30,510.00 C227.25,511.53 226.07,512.87 225.10,514.60 C224.13,516.33 223.27,518.47 222.50,520.40 C221.73,522.33 221.10,524.27 220.50,526.20 C219.90,528.13 219.28,530.08 218.90,532.00 C218.52,533.92 218.18,535.78 218.20,537.70 C218.22,539.62 218.68,541.58 219.00,543.50 C219.32,545.42 220.02,547.48 220.10,549.20 C220.18,550.92 219.70,552.07 219.50,553.80 C219.30,555.53 218.77,557.67 218.90,559.60 C219.03,561.53 219.60,563.47 220.30,565.40 C221.00,567.33 222.18,569.27 223.10,571.20 C224.02,573.13 224.85,574.88 225.80,577.00 C226.75,579.12 227.92,581.60 228.80,583.90 C229.68,586.20 230.47,588.50 231.10,590.80 C231.73,593.10 232.32,595.77 232.60,597.70 C232.88,599.63 232.77,601.62 232.80,602.40 L236.40,602.40 C236.43,601.62 236.32,599.63 236.60,597.70 C236.88,595.77 237.47,593.10 238.10,590.80 C238.73,588.50 239.52,586.20 240.40,583.90 C241.28,581.60 242.45,579.12 243.40,577.00 C244.35,574.88 245.18,573.13 246.10,571.20 C247.02,569.27 248.20,567.33 248.90,565.40 C249.60,563.47 250.17,561.53 250.30,559.60 C250.43,557.67 249.90,555.53 249.70,553.80 C249.50,552.07 249.02,550.92 249.10,549.20 C249.18,547.48 249.88,545.42 250.20,543.50 C250.52,541.58 250.98,539.62 251.00,537.70 C251.02,535.78 250.68,533.92 250.30,532.00 C249.92,530.08 249.30,528.13 248.70,526.20 C248.10,524.27 247.47,522.33 246.70,520.40 C245.93,518.47 245.07,516.33 244.10,514.60 C243.13,512.87 241.95,511.53 240.90,510.00 C239.85,508.47 238.55,506.93 237.80,505.40 C237.05,503.87 236.73,502.15 236.40,500.80 C236.07,499.45 236.05,497.97 235.80,497.30 C235.55,496.63 235.05,496.88 234.90,496.80 Z" fill="#000" stroke="#000" stroke-width="0.4"/>
<line x1="234.60" y1="497.50" x2="234.60" y2="602.00" stroke="#fff" stroke-width="0.35" />
<rect x="233.20" y="534.20" width="2.80" height="31.20" fill="#fff" stroke="none" stroke-width="1" />
<line x1="233.20" y1="548.50" x2="236.00" y2="548.50" stroke="#333" stroke-width="0.6" />
<path d="M286.90,509.00 C286.82,509.17 286.60,509.07 286.40,510.00 C286.20,510.93 285.98,512.87 285.70,514.60 C285.42,516.33 285.15,518.47 284.70,520.40 C284.25,522.33 283.75,524.67 283.00,526.20 C282.25,527.73 281.10,528.45 280.20,529.60 C279.30,530.75 278.30,531.75 277.60,533.10 C276.90,534.45 276.48,536.17 276.00,537.70 C275.52,539.23 275.47,540.57 274.70,542.30 C273.93,544.03 272.78,546.18 271.40,548.10 C270.02,550.02 267.67,552.07 266.40,553.80 C265.13,555.53 264.07,557.15 263.80,558.50 C263.53,559.85 263.88,560.57 264.80,561.90 C265.72,563.23 267.90,565.15 269.30,566.50 C270.70,567.85 272.42,569.03 273.20,570.00 C273.98,570.97 274.47,571.33 274.00,572.30 C273.53,573.27 271.33,574.65 270.40,575.80 C269.47,576.95 268.10,578.05 268.40,579.20 C268.70,580.35 270.52,581.35 272.20,582.70 C273.88,584.05 276.87,585.57 278.50,587.30 C280.13,589.03 281.18,591.17 282.00,593.10 C282.82,595.03 283.18,597.35 283.40,598.90 C283.62,600.45 283.32,601.82 283.30,602.40 L291.10,602.40 C291.08,601.82 290.78,600.45 291.00,598.90 C291.22,597.35 291.58,595.03 292.40,593.10 C293.22,591.17 294.27,589.03 295.90,587.30 C297.53,585.57 300.52,584.05 302.20,582.70 C303.88,581.35 305.70,580.35 306.00,579.20 C306.30,578.05 304.93,576.95 304.00,575.80 C303.07,574.65 300.87,573.27 300.40,572.30 C299.93,571.33 300.42,570.97 301.20,570.00 C301.98,569.03 303.70,567.85 305.10,566.50 C306.50,565.15 308.68,563.23 309.60,561.90 C310.52,560.57 310.87,559.85 310.60,558.50 C310.33,557.15 309.27,555.53 308.00,553.80 C306.73,552.07 304.38,550.02 303.00,548.10 C301.62,546.18 300.47,544.03 299.70,542.30 C298.93,540.57 298.88,539.23 298.40,537.70 C297.92,536.17 297.50,534.45 296.80,533.10 C296.10,531.75 295.10,530.75 294.20,529.60 C293.30,528.45 292.15,527.73 291.40,526.20 C290.65,524.67 290.15,522.33 289.70,520.40 C289.25,518.47 288.98,516.33 288.70,514.60 C288.42,512.87 288.20,510.93 288.00,510.00 C287.80,509.07 287.58,509.17 287.50,509.00 Z" fill="#f8312f" stroke="#111" stroke-width="0.45"/>
<line x1="287.20" y1="489.00" x2="287.20" y2="602.00" stroke="#222" stroke-width="0.35" />
<circle cx="287.20" cy="488.30" r="0.90" fill="#111" stroke="none" stroke-width="0" />
<circle cx="287.20" cy="490.50" r="0.75" fill="#111" stroke="none" stroke-width="0" />
<circle cx="287.20" cy="492.60" r="0.75" fill="#111" stroke="none" stroke-width="0" />
<circle cx="287.20" cy="494.50" r="0.75" fill="#111" stroke="none" stroke-width="0" />
<circle cx="287.20" cy="496.80" r="0.75" fill="#111" stroke="none" stroke-width="0" />
<circle cx="287.20" cy="498.60" r="0.75" fill="#111" stroke="none" stroke-width="0" />
<circle cx="287.20" cy="500.40" r="0.75" fill="#111" stroke="none" stroke-width="0" />
<circle cx="287.20" cy="502.00" r="0.75" fill="#111" stroke="none" stroke-width="0" />
<circle cx="287.20" cy="503.80" r="0.75" fill="#111" stroke="none" stroke-width="0" />
<circle cx="287.20" cy="505.50" r="0.75" fill="#111" stroke="none" stroke-width="0" />
<circle cx="287.20" cy="507.20" r="0.75" fill="#111" stroke="none" stroke-width="0" />
<rect x="285.80" y="549.20" width="2.60" height="32.30" fill="#fff" stroke="none" stroke-width="1" />
<line x1="285.80" y1="561.20" x2="288.40" y2="561.20" stroke="#444" stroke-width="0.6" />
<rect x="202.70" y="482.20" width="115.80" height="126.10" fill="none" stroke="#aaa" stroke-width="0.6" />
<line x1="201.10" y1="602.60" x2="202.70" y2="602.60" stroke="#555" stroke-width="0.5" />
<text x="200.30" y="604.50" font-size="5.5" text-anchor="end" font-weight="normal" fill="#4d4d4d"  style="">0.0</text>
<line x1="201.10" y1="566.80" x2="202.70" y2="566.80" stroke="#555" stroke-width="0.5" />
<text x="200.30" y="568.70" font-size="5.5" text-anchor="end" font-weight="normal" fill="#4d4d4d"  style="">0.2</text>
<line x1="201.10" y1="531.00" x2="202.70" y2="531.00" stroke="#555" stroke-width="0.5" />
<text x="200.30" y="532.90" font-size="5.5" text-anchor="end" font-weight="normal" fill="#4d4d4d"  style="">0.4</text>
<line x1="201.10" y1="495.20" x2="202.70" y2="495.20" stroke="#555" stroke-width="0.5" />
<text x="200.30" y="497.10" font-size="5.5" text-anchor="end" font-weight="normal" fill="#4d4d4d"  style="">0.6</text>
<line x1="234.60" y1="608.30" x2="234.60" y2="609.90" stroke="#555" stroke-width="0.5" />
<text x="234.60" y="614.80" font-size="5.4" text-anchor="middle" font-weight="normal" fill="#4d4d4d"  style="">Dominant</text>
<line x1="287.20" y1="608.30" x2="287.20" y2="609.90" stroke="#555" stroke-width="0.5" />
<text x="287.20" y="614.80" font-size="5.4" text-anchor="middle" font-weight="normal" fill="#4d4d4d"  style="">Other cells</text>
<text transform="translate(190.5,545.2) rotate(-90)" font-size="6.7" text-anchor="middle" fill="#1a1a1a">Activation</text>
<text x="259.2" y="488.7" font-size="4.85" text-anchor="middle" fill="#111">Wilcoxon, <tspan font-style="italic">P</tspan> &lt; 2.2e−16</text>
</svg></body></html>
